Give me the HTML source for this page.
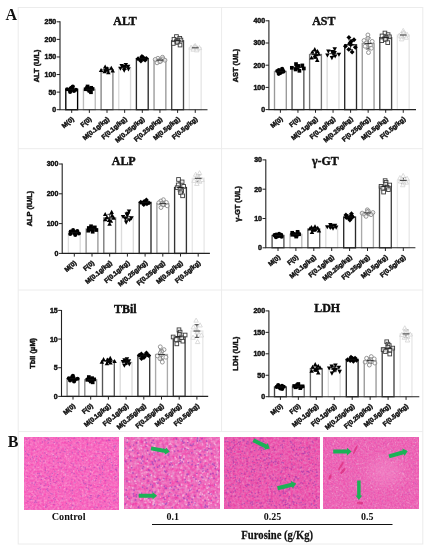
<!DOCTYPE html>
<html lang="en"><head><meta charset="utf-8"><title>Figure</title>
<style>html,body{margin:0;padding:0;background:#fff}svg{display:block}</style></head>
<body>
<svg width="431" height="550" viewBox="0 0 431 550">
<defs>
<filter id="tx1" x="0" y="0" width="100%" height="100%" color-interpolation-filters="sRGB">
<feTurbulence type="fractalNoise" baseFrequency="0.45" numOctaves="2" seed="3" result="n"/>
<feColorMatrix in="n" type="matrix" values="0.1 0 0 0 0.915  0 0.35 0 0 0.241  0 0.12 0 0 0.693  0 0 0 0 1"/>
</filter>
<filter id="tx2" x="0" y="0" width="100%" height="100%" color-interpolation-filters="sRGB">
<feTurbulence type="fractalNoise" baseFrequency="0.32" numOctaves="2" seed="11" result="n"/>
<feColorMatrix in="n" type="matrix" values="0.15 0 0 0 0.858  0 0.5 0 0 0.174  0 0.2 0 0 0.637  0 0 0 0 1"/>
</filter>
<filter id="tx3" x="0" y="0" width="100%" height="100%" color-interpolation-filters="sRGB">
<feTurbulence type="fractalNoise" baseFrequency="0.45" numOctaves="2" seed="5" result="n"/>
<feColorMatrix in="n" type="matrix" values="0.12 0 0 0 0.858  0 0.35 0 0 0.186  0 0.15 0 0 0.615  0 0 0 0 1"/>
</filter>
<filter id="tx4" x="0" y="0" width="100%" height="100%" color-interpolation-filters="sRGB">
<feTurbulence type="fractalNoise" baseFrequency="0.55" numOctaves="2" seed="8" result="n"/>
<feColorMatrix in="n" type="matrix" values="0.1 0 0 0 0.875  0 0.3 0 0 0.250  0 0.12 0 0 0.654  0 0 0 0 1"/>
</filter>
<filter id="bl" x="-50%" y="-50%" width="200%" height="200%"><feGaussianBlur stdDeviation="0.7"/></filter><filter id="bl2" x="-50%" y="-50%" width="200%" height="200%"><feGaussianBlur stdDeviation="6"/></filter>
</defs>
<rect width="431" height="550" fill="#fff"/>

<g stroke="#ececec" stroke-width="1" fill="none">
<rect x="18.2" y="7.5" width="404.6" height="536.5"/>
<path d="M221.6 7.5V431.6M18.2 148.7H422.8M18.2 290H422.8M18.2 431.6H422.8"/>
</g>
<text x="5.6" y="19.7" font-family='"Liberation Serif", "Times New Roman", serif' font-weight="bold" font-size="16" fill="#111">A</text>
<text x="7.8" y="447.3" font-family='"Liberation Serif", "Times New Roman", serif' font-weight="bold" font-size="16" fill="#111">B</text>
<g><rect x="65.80" y="89.31" width="11.80" height="20.39" fill="none" stroke="#000" stroke-width="1.35"/>
<rect x="83.45" y="89.31" width="11.80" height="20.39" fill="none" stroke="#bdbdbd" stroke-width="1.35"/>
<rect x="101.10" y="69.62" width="11.80" height="40.08" fill="none" stroke="#858585" stroke-width="1.35"/>
<rect x="118.75" y="67.51" width="11.80" height="42.19" fill="none" stroke="#dcdcdc" stroke-width="1.35"/>
<rect x="136.40" y="58.72" width="11.80" height="50.98" fill="none" stroke="#2a2a2a" stroke-width="1.35"/>
<rect x="154.05" y="60.12" width="11.80" height="49.58" fill="none" stroke="#999" stroke-width="1.35"/>
<rect x="171.70" y="40.79" width="11.80" height="68.91" fill="none" stroke="#444" stroke-width="1.35"/>
<rect x="189.35" y="47.82" width="11.80" height="61.88" fill="none" stroke="#e6e6e6" stroke-width="1.35"/>
<path d="M60.00 21.30V110.20M59.50 109.70H207.50" stroke="#222" stroke-width="1.1" fill="none"/>
<path d="M56.70 109.70H60.00" stroke="#222" stroke-width="1"/>
<text x="56.20" y="112.15" text-anchor="end" font-family='"Liberation Sans", Arial, sans-serif' font-weight="bold" font-size="7" fill="#111" stroke="#111" stroke-width="0.45">0</text>
<path d="M56.70 92.12H60.00" stroke="#222" stroke-width="1"/>
<text x="56.20" y="94.57" text-anchor="end" font-family='"Liberation Sans", Arial, sans-serif' font-weight="bold" font-size="7" fill="#111" stroke="#111" stroke-width="0.45">50</text>
<path d="M56.70 74.54H60.00" stroke="#222" stroke-width="1"/>
<text x="56.20" y="76.99" text-anchor="end" font-family='"Liberation Sans", Arial, sans-serif' font-weight="bold" font-size="7" fill="#111" stroke="#111" stroke-width="0.45">100</text>
<path d="M56.70 56.96H60.00" stroke="#222" stroke-width="1"/>
<text x="56.20" y="59.41" text-anchor="end" font-family='"Liberation Sans", Arial, sans-serif' font-weight="bold" font-size="7" fill="#111" stroke="#111" stroke-width="0.45">150</text>
<path d="M56.70 39.38H60.00" stroke="#222" stroke-width="1"/>
<text x="56.20" y="41.83" text-anchor="end" font-family='"Liberation Sans", Arial, sans-serif' font-weight="bold" font-size="7" fill="#111" stroke="#111" stroke-width="0.45">200</text>
<path d="M56.70 21.80H60.00" stroke="#222" stroke-width="1"/>
<text x="56.20" y="24.25" text-anchor="end" font-family='"Liberation Sans", Arial, sans-serif' font-weight="bold" font-size="7" fill="#111" stroke="#111" stroke-width="0.45">250</text>
<path d="M71.70 109.70V112.90" stroke="#222" stroke-width="1"/>
<text transform="translate(74.40 119.80) rotate(-40)" text-anchor="end" font-family='"Liberation Sans", Arial, sans-serif' font-weight="bold" font-size="6.55" fill="#111" stroke="#111" stroke-width="0.45">M(0)</text>
<path d="M89.35 109.70V112.90" stroke="#222" stroke-width="1"/>
<text transform="translate(92.05 119.80) rotate(-40)" text-anchor="end" font-family='"Liberation Sans", Arial, sans-serif' font-weight="bold" font-size="6.55" fill="#111" stroke="#111" stroke-width="0.45">F(0)</text>
<path d="M107.00 109.70V112.90" stroke="#222" stroke-width="1"/>
<text transform="translate(109.70 119.80) rotate(-40)" text-anchor="end" font-family='"Liberation Sans", Arial, sans-serif' font-weight="bold" font-size="6.55" fill="#111" stroke="#111" stroke-width="0.45">M(0.1g/kg)</text>
<path d="M124.65 109.70V112.90" stroke="#222" stroke-width="1"/>
<text transform="translate(127.35 119.80) rotate(-40)" text-anchor="end" font-family='"Liberation Sans", Arial, sans-serif' font-weight="bold" font-size="6.55" fill="#111" stroke="#111" stroke-width="0.45">F(0.1g/kg)</text>
<path d="M142.30 109.70V112.90" stroke="#222" stroke-width="1"/>
<text transform="translate(145.00 119.80) rotate(-40)" text-anchor="end" font-family='"Liberation Sans", Arial, sans-serif' font-weight="bold" font-size="6.55" fill="#111" stroke="#111" stroke-width="0.45">M(0.25g/kg)</text>
<path d="M159.95 109.70V112.90" stroke="#222" stroke-width="1"/>
<text transform="translate(162.65 119.80) rotate(-40)" text-anchor="end" font-family='"Liberation Sans", Arial, sans-serif' font-weight="bold" font-size="6.55" fill="#111" stroke="#111" stroke-width="0.45">F(0.25g/kg)</text>
<path d="M177.60 109.70V112.90" stroke="#222" stroke-width="1"/>
<text transform="translate(180.30 119.80) rotate(-40)" text-anchor="end" font-family='"Liberation Sans", Arial, sans-serif' font-weight="bold" font-size="6.55" fill="#111" stroke="#111" stroke-width="0.45">M(0.5g/kg)</text>
<path d="M195.25 109.70V112.90" stroke="#222" stroke-width="1"/>
<text transform="translate(197.95 119.80) rotate(-40)" text-anchor="end" font-family='"Liberation Sans", Arial, sans-serif' font-weight="bold" font-size="6.55" fill="#111" stroke="#111" stroke-width="0.45">F(0.5g/kg)</text>
<path d="M71.70 87.55V91.07M69.30 87.55H74.10M69.30 91.07H74.10" stroke="#111" stroke-width="0.8" fill="none"/>
<circle cx="72.84" cy="86.43" r="2.05" fill="#000"/>
<circle cx="71.83" cy="87.46" r="2.05" fill="#000"/>
<circle cx="70.73" cy="88.33" r="2.05" fill="#000"/>
<circle cx="71.90" cy="88.63" r="2.05" fill="#000"/>
<circle cx="67.10" cy="89.32" r="2.05" fill="#000"/>
<circle cx="75.90" cy="89.75" r="2.05" fill="#000"/>
<circle cx="69.94" cy="90.16" r="2.05" fill="#000"/>
<circle cx="73.97" cy="91.01" r="2.05" fill="#000"/>
<circle cx="70.10" cy="91.91" r="2.05" fill="#000"/>
<path d="M68.30 89.31H75.10" stroke="#111" stroke-width="0.8"/>
<path d="M89.35 87.55V91.07M86.95 87.55H91.75M86.95 91.07H91.75" stroke="#111" stroke-width="0.8" fill="none"/>
<rect x="85.73" y="84.62" width="3.69" height="3.69" fill="#000"/>
<rect x="89.34" y="85.96" width="3.69" height="3.69" fill="#000"/>
<rect x="85.13" y="86.23" width="3.69" height="3.69" fill="#000"/>
<rect x="90.75" y="87.12" width="3.69" height="3.69" fill="#000"/>
<rect x="83.79" y="87.37" width="3.69" height="3.69" fill="#000"/>
<rect x="86.78" y="87.81" width="3.69" height="3.69" fill="#000"/>
<rect x="88.25" y="88.34" width="3.69" height="3.69" fill="#000"/>
<rect x="87.61" y="89.08" width="3.69" height="3.69" fill="#000"/>
<rect x="89.13" y="90.40" width="3.69" height="3.69" fill="#000"/>
<path d="M85.95 89.31H92.75" stroke="#111" stroke-width="0.8"/>
<path d="M107.00 67.86V71.38M104.60 67.86H109.40M104.60 71.38H109.40" stroke="#111" stroke-width="0.8" fill="none"/>
<path d="M105.18 64.48L107.43 68.58L102.92 68.58Z" fill="#000"/>
<path d="M111.28 65.70L113.54 69.80L109.03 69.80Z" fill="#000"/>
<path d="M107.37 66.31L109.63 70.41L105.12 70.41Z" fill="#000"/>
<path d="M105.75 66.78L108.01 70.88L103.50 70.88Z" fill="#000"/>
<path d="M107.15 67.49L109.41 71.59L104.90 71.59Z" fill="#000"/>
<path d="M101.09 67.94L103.35 72.04L98.84 72.04Z" fill="#000"/>
<path d="M112.69 68.29L114.95 72.39L110.44 72.39Z" fill="#000"/>
<path d="M104.66 69.09L106.91 73.19L102.40 73.19Z" fill="#000"/>
<path d="M108.39 70.17L110.65 74.27L106.14 74.27Z" fill="#000"/>
<path d="M103.60 69.62H110.40" stroke="#111" stroke-width="0.8"/>
<path d="M124.65 65.75V69.27M122.25 65.75H127.05M122.25 69.27H127.05" stroke="#111" stroke-width="0.8" fill="none"/>
<path d="M125.82 67.07L128.08 62.97L123.57 62.97Z" fill="#000"/>
<path d="M121.66 68.09L123.92 63.99L119.41 63.99Z" fill="#000"/>
<path d="M128.09 68.89L130.34 64.79L125.83 64.79Z" fill="#000"/>
<path d="M124.98 69.19L127.23 65.09L122.72 65.09Z" fill="#000"/>
<path d="M123.82 69.85L126.07 65.75L121.56 65.75Z" fill="#000"/>
<path d="M124.76 70.30L127.01 66.20L122.50 66.20Z" fill="#000"/>
<path d="M120.44 70.83L122.69 66.73L118.18 66.73Z" fill="#000"/>
<path d="M128.46 71.45L130.71 67.35L126.20 67.35Z" fill="#000"/>
<path d="M124.22 72.71L126.47 68.61L121.96 68.61Z" fill="#000"/>
<path d="M121.25 67.51H128.05" stroke="#111" stroke-width="0.8"/>
<path d="M142.30 57.31V60.12M139.90 57.31H144.70M139.90 60.12H144.70" stroke="#111" stroke-width="0.8" fill="none"/>
<path d="M141.92 53.97L144.38 56.43L141.92 58.89L139.46 56.43Z" fill="#000"/>
<path d="M143.07 55.05L145.53 57.51L143.07 59.97L140.61 57.51Z" fill="#000"/>
<path d="M142.17 55.38L144.63 57.84L142.17 60.30L139.71 57.84Z" fill="#000"/>
<path d="M146.26 55.90L148.72 58.36L146.26 60.82L143.80 58.36Z" fill="#000"/>
<path d="M138.08 56.26L140.54 58.72L138.08 61.18L135.62 58.72Z" fill="#000"/>
<path d="M144.09 56.56L146.55 59.02L144.09 61.48L141.63 59.02Z" fill="#000"/>
<path d="M140.22 57.02L142.68 59.48L140.22 61.94L137.76 59.48Z" fill="#000"/>
<path d="M145.16 57.70L147.62 60.16L145.16 62.62L142.70 60.16Z" fill="#000"/>
<path d="M140.92 58.46L143.38 60.92L140.92 63.38L138.46 60.92Z" fill="#000"/>
<path d="M138.90 58.72H145.70" stroke="#111" stroke-width="0.8"/>
<path d="M159.95 58.37V61.88M157.55 58.37H162.35M157.55 61.88H162.35" stroke="#111" stroke-width="0.8" fill="none"/>
<circle cx="162.49" cy="57.27" r="1.95" fill="#fff" fill-opacity="0.6" stroke="#8a8a8a" stroke-width="0.9"/>
<circle cx="157.90" cy="58.31" r="1.95" fill="#fff" fill-opacity="0.6" stroke="#8a8a8a" stroke-width="0.9"/>
<circle cx="163.04" cy="58.91" r="1.95" fill="#fff" fill-opacity="0.6" stroke="#8a8a8a" stroke-width="0.9"/>
<circle cx="155.25" cy="59.48" r="1.95" fill="#fff" fill-opacity="0.6" stroke="#8a8a8a" stroke-width="0.9"/>
<circle cx="164.97" cy="60.19" r="1.95" fill="#fff" fill-opacity="0.6" stroke="#8a8a8a" stroke-width="0.9"/>
<circle cx="160.86" cy="60.41" r="1.95" fill="#fff" fill-opacity="0.6" stroke="#8a8a8a" stroke-width="0.9"/>
<circle cx="158.76" cy="61.30" r="1.95" fill="#fff" fill-opacity="0.6" stroke="#8a8a8a" stroke-width="0.9"/>
<circle cx="160.09" cy="61.69" r="1.95" fill="#fff" fill-opacity="0.6" stroke="#8a8a8a" stroke-width="0.9"/>
<circle cx="157.06" cy="62.83" r="1.95" fill="#fff" fill-opacity="0.6" stroke="#8a8a8a" stroke-width="0.9"/>
<path d="M156.55 60.12H163.35" stroke="#111" stroke-width="0.8"/>
<path d="M177.60 37.97V43.60M175.20 37.97H180.00M175.20 43.60H180.00" stroke="#111" stroke-width="0.8" fill="none"/>
<rect x="174.60" y="34.71" width="3.69" height="3.69" fill="#fff" fill-opacity="0.6" stroke="#3c3c3c" stroke-width="0.9"/>
<rect x="177.94" y="36.53" width="3.69" height="3.69" fill="#fff" fill-opacity="0.6" stroke="#3c3c3c" stroke-width="0.9"/>
<rect x="172.13" y="37.41" width="3.69" height="3.69" fill="#fff" fill-opacity="0.6" stroke="#3c3c3c" stroke-width="0.9"/>
<rect x="179.06" y="38.19" width="3.69" height="3.69" fill="#fff" fill-opacity="0.6" stroke="#3c3c3c" stroke-width="0.9"/>
<rect x="176.03" y="38.87" width="3.69" height="3.69" fill="#fff" fill-opacity="0.6" stroke="#3c3c3c" stroke-width="0.9"/>
<rect x="174.56" y="39.66" width="3.69" height="3.69" fill="#fff" fill-opacity="0.6" stroke="#3c3c3c" stroke-width="0.9"/>
<rect x="175.67" y="40.59" width="3.69" height="3.69" fill="#fff" fill-opacity="0.6" stroke="#3c3c3c" stroke-width="0.9"/>
<rect x="171.41" y="41.60" width="3.69" height="3.69" fill="#fff" fill-opacity="0.6" stroke="#3c3c3c" stroke-width="0.9"/>
<rect x="178.20" y="43.21" width="3.69" height="3.69" fill="#fff" fill-opacity="0.6" stroke="#3c3c3c" stroke-width="0.9"/>
<path d="M174.20 40.79H181.00" stroke="#111" stroke-width="0.8"/>
<path d="M195.25 46.41V49.22M192.85 46.41H197.65M192.85 49.22H197.65" stroke="#111" stroke-width="0.8" fill="none"/>
<path d="M195.19 43.36L197.45 47.46L192.94 47.46Z" fill="#fff" fill-opacity="0.6" stroke="#d8d8d8" stroke-width="0.9"/>
<path d="M194.33 44.08L196.58 48.18L192.07 48.18Z" fill="#fff" fill-opacity="0.6" stroke="#d8d8d8" stroke-width="0.9"/>
<path d="M195.16 44.65L197.41 48.75L192.90 48.75Z" fill="#fff" fill-opacity="0.6" stroke="#d8d8d8" stroke-width="0.9"/>
<path d="M191.12 45.11L193.37 49.21L188.86 49.21Z" fill="#fff" fill-opacity="0.6" stroke="#d8d8d8" stroke-width="0.9"/>
<path d="M199.44 45.52L201.69 49.62L197.18 49.62Z" fill="#fff" fill-opacity="0.6" stroke="#d8d8d8" stroke-width="0.9"/>
<path d="M193.37 45.83L195.62 49.93L191.11 49.93Z" fill="#fff" fill-opacity="0.6" stroke="#d8d8d8" stroke-width="0.9"/>
<path d="M197.06 46.51L199.32 50.61L194.81 50.61Z" fill="#fff" fill-opacity="0.6" stroke="#d8d8d8" stroke-width="0.9"/>
<path d="M193.20 47.09L195.45 51.19L190.94 51.19Z" fill="#fff" fill-opacity="0.6" stroke="#d8d8d8" stroke-width="0.9"/>
<path d="M196.65 47.79L198.91 51.89L194.40 51.89Z" fill="#fff" fill-opacity="0.6" stroke="#d8d8d8" stroke-width="0.9"/>
<path d="M191.85 47.82H198.65" stroke="#111" stroke-width="0.8"/>
<text transform="translate(125.00 24.80) scale(0.92 1)" text-anchor="middle" font-family='"Liberation Serif", "Times New Roman", serif' font-weight="bold" font-size="13" fill="#111" stroke="#111" stroke-width="0.45">ALT</text>
<text transform="translate(38.60 65.90) rotate(-90)" text-anchor="middle" font-family='"Liberation Sans", Arial, sans-serif' font-weight="bold" font-size="7.4" fill="#111" stroke="#111" stroke-width="0.45">ALT (U/L)</text></g>
<g><rect x="274.50" y="71.42" width="11.80" height="38.18" fill="none" stroke="#999" stroke-width="1.35"/>
<rect x="292.05" y="67.42" width="11.80" height="42.18" fill="none" stroke="#555" stroke-width="1.35"/>
<rect x="309.60" y="54.54" width="11.80" height="55.06" fill="none" stroke="#777" stroke-width="1.35"/>
<rect x="327.15" y="53.66" width="11.80" height="55.94" fill="none" stroke="#dcdcdc" stroke-width="1.35"/>
<rect x="344.70" y="44.78" width="11.80" height="64.82" fill="none" stroke="#2a2a2a" stroke-width="1.35"/>
<rect x="362.25" y="43.44" width="11.80" height="66.16" fill="none" stroke="#999" stroke-width="1.35"/>
<rect x="379.80" y="37.67" width="11.80" height="71.93" fill="none" stroke="#444" stroke-width="1.35"/>
<rect x="397.35" y="35.01" width="11.80" height="74.59" fill="none" stroke="#e6e6e6" stroke-width="1.35"/>
<path d="M268.90 20.30V110.10M268.40 109.60H416.00" stroke="#222" stroke-width="1.1" fill="none"/>
<path d="M265.60 109.60H268.90" stroke="#222" stroke-width="1"/>
<text x="265.10" y="112.05" text-anchor="end" font-family='"Liberation Sans", Arial, sans-serif' font-weight="bold" font-size="7" fill="#111" stroke="#111" stroke-width="0.45">0</text>
<path d="M265.60 87.40H268.90" stroke="#222" stroke-width="1"/>
<text x="265.10" y="89.85" text-anchor="end" font-family='"Liberation Sans", Arial, sans-serif' font-weight="bold" font-size="7" fill="#111" stroke="#111" stroke-width="0.45">100</text>
<path d="M265.60 65.20H268.90" stroke="#222" stroke-width="1"/>
<text x="265.10" y="67.65" text-anchor="end" font-family='"Liberation Sans", Arial, sans-serif' font-weight="bold" font-size="7" fill="#111" stroke="#111" stroke-width="0.45">200</text>
<path d="M265.60 43.00H268.90" stroke="#222" stroke-width="1"/>
<text x="265.10" y="45.45" text-anchor="end" font-family='"Liberation Sans", Arial, sans-serif' font-weight="bold" font-size="7" fill="#111" stroke="#111" stroke-width="0.45">300</text>
<path d="M265.60 20.80H268.90" stroke="#222" stroke-width="1"/>
<text x="265.10" y="23.25" text-anchor="end" font-family='"Liberation Sans", Arial, sans-serif' font-weight="bold" font-size="7" fill="#111" stroke="#111" stroke-width="0.45">400</text>
<path d="M280.40 109.60V112.80" stroke="#222" stroke-width="1"/>
<text transform="translate(283.10 119.70) rotate(-40)" text-anchor="end" font-family='"Liberation Sans", Arial, sans-serif' font-weight="bold" font-size="6.55" fill="#111" stroke="#111" stroke-width="0.45">M(0)</text>
<path d="M297.95 109.60V112.80" stroke="#222" stroke-width="1"/>
<text transform="translate(300.65 119.70) rotate(-40)" text-anchor="end" font-family='"Liberation Sans", Arial, sans-serif' font-weight="bold" font-size="6.55" fill="#111" stroke="#111" stroke-width="0.45">F(0)</text>
<path d="M315.50 109.60V112.80" stroke="#222" stroke-width="1"/>
<text transform="translate(318.20 119.70) rotate(-40)" text-anchor="end" font-family='"Liberation Sans", Arial, sans-serif' font-weight="bold" font-size="6.55" fill="#111" stroke="#111" stroke-width="0.45">M(0.1g/kg)</text>
<path d="M333.05 109.60V112.80" stroke="#222" stroke-width="1"/>
<text transform="translate(335.75 119.70) rotate(-40)" text-anchor="end" font-family='"Liberation Sans", Arial, sans-serif' font-weight="bold" font-size="6.55" fill="#111" stroke="#111" stroke-width="0.45">F(0.1g/kg)</text>
<path d="M350.60 109.60V112.80" stroke="#222" stroke-width="1"/>
<text transform="translate(353.30 119.70) rotate(-40)" text-anchor="end" font-family='"Liberation Sans", Arial, sans-serif' font-weight="bold" font-size="6.55" fill="#111" stroke="#111" stroke-width="0.45">M(0.25g/kg)</text>
<path d="M368.15 109.60V112.80" stroke="#222" stroke-width="1"/>
<text transform="translate(370.85 119.70) rotate(-40)" text-anchor="end" font-family='"Liberation Sans", Arial, sans-serif' font-weight="bold" font-size="6.55" fill="#111" stroke="#111" stroke-width="0.45">F(0.25g/kg)</text>
<path d="M385.70 109.60V112.80" stroke="#222" stroke-width="1"/>
<text transform="translate(388.40 119.70) rotate(-40)" text-anchor="end" font-family='"Liberation Sans", Arial, sans-serif' font-weight="bold" font-size="6.55" fill="#111" stroke="#111" stroke-width="0.45">M(0.5g/kg)</text>
<path d="M403.25 109.60V112.80" stroke="#222" stroke-width="1"/>
<text transform="translate(405.95 119.70) rotate(-40)" text-anchor="end" font-family='"Liberation Sans", Arial, sans-serif' font-weight="bold" font-size="6.55" fill="#111" stroke="#111" stroke-width="0.45">F(0.5g/kg)</text>
<path d="M280.40 69.86V72.97M278.00 69.86H282.80M278.00 72.97H282.80" stroke="#111" stroke-width="0.8" fill="none"/>
<circle cx="282.13" cy="68.81" r="2.05" fill="#000"/>
<circle cx="278.87" cy="69.93" r="2.05" fill="#000"/>
<circle cx="282.77" cy="70.32" r="2.05" fill="#000"/>
<circle cx="277.22" cy="70.99" r="2.05" fill="#000"/>
<circle cx="283.53" cy="71.59" r="2.05" fill="#000"/>
<circle cx="281.03" cy="71.99" r="2.05" fill="#000"/>
<circle cx="279.81" cy="72.41" r="2.05" fill="#000"/>
<circle cx="280.61" cy="72.83" r="2.05" fill="#000"/>
<circle cx="278.67" cy="73.84" r="2.05" fill="#000"/>
<path d="M277.00 71.42H283.80" stroke="#111" stroke-width="0.8"/>
<path d="M297.95 65.20V69.64M295.55 65.20H300.35M295.55 69.64H300.35" stroke="#111" stroke-width="0.8" fill="none"/>
<rect x="294.17" y="62.21" width="3.69" height="3.69" fill="#000"/>
<rect x="300.48" y="63.56" width="3.69" height="3.69" fill="#000"/>
<rect x="296.63" y="64.12" width="3.69" height="3.69" fill="#000"/>
<rect x="295.15" y="64.96" width="3.69" height="3.69" fill="#000"/>
<rect x="295.85" y="65.50" width="3.69" height="3.69" fill="#000"/>
<rect x="289.98" y="65.95" width="3.69" height="3.69" fill="#000"/>
<rect x="301.98" y="66.63" width="3.69" height="3.69" fill="#000"/>
<rect x="293.75" y="67.61" width="3.69" height="3.69" fill="#000"/>
<rect x="297.57" y="68.98" width="3.69" height="3.69" fill="#000"/>
<path d="M294.55 67.42H301.35" stroke="#111" stroke-width="0.8"/>
<path d="M315.50 50.99V58.10M313.10 50.99H317.90M313.10 58.10H317.90" stroke="#111" stroke-width="0.8" fill="none"/>
<path d="M314.78 47.04L317.04 51.14L312.53 51.14Z" fill="#000"/>
<path d="M317.51 48.95L319.77 53.05L315.26 53.05Z" fill="#000"/>
<path d="M312.36 49.77L314.62 53.87L310.11 53.87Z" fill="#000"/>
<path d="M318.70 51.64L320.96 55.74L316.45 55.74Z" fill="#000"/>
<path d="M316.23 52.16L318.48 56.26L313.97 56.26Z" fill="#000"/>
<path d="M314.71 53.41L316.97 57.51L312.46 57.51Z" fill="#000"/>
<path d="M315.48 54.67L317.73 58.77L313.22 58.77Z" fill="#000"/>
<path d="M311.55 55.40L313.81 59.50L309.30 59.50Z" fill="#000"/>
<path d="M317.23 57.85L319.49 61.95L314.98 61.95Z" fill="#000"/>
<path d="M312.10 54.54H318.90" stroke="#111" stroke-width="0.8"/>
<path d="M333.05 50.99V56.32M330.65 50.99H335.45M330.65 56.32H335.45" stroke="#111" stroke-width="0.8" fill="none"/>
<path d="M334.72 51.45L336.97 47.35L332.46 47.35Z" fill="#000"/>
<path d="M328.38 53.65L330.64 49.55L326.13 49.55Z" fill="#000"/>
<path d="M332.14 54.04L334.39 49.94L329.88 49.94Z" fill="#000"/>
<path d="M334.57 55.22L336.83 51.12L332.32 51.12Z" fill="#000"/>
<path d="M333.14 55.89L335.39 51.79L330.88 51.79Z" fill="#000"/>
<path d="M338.96 56.76L341.21 52.66L336.70 52.66Z" fill="#000"/>
<path d="M327.42 57.55L329.68 53.45L325.17 53.45Z" fill="#000"/>
<path d="M335.13 58.55L337.39 54.45L332.88 54.45Z" fill="#000"/>
<path d="M331.91 60.14L334.17 56.04L329.66 56.04Z" fill="#000"/>
<path d="M329.65 53.66H336.45" stroke="#111" stroke-width="0.8"/>
<path d="M350.60 39.89V49.66M348.20 39.89H353.00M348.20 49.66H353.00" stroke="#111" stroke-width="0.8" fill="none"/>
<path d="M348.92 34.92L351.38 37.38L348.92 39.84L346.46 37.38Z" fill="#000"/>
<path d="M354.00 37.25L356.46 39.71L354.00 42.17L351.54 39.71Z" fill="#000"/>
<path d="M351.13 39.15L353.59 41.61L351.13 44.07L348.67 41.61Z" fill="#000"/>
<path d="M349.76 40.69L352.22 43.15L349.76 45.61L347.30 43.15Z" fill="#000"/>
<path d="M350.83 42.01L353.29 44.47L350.83 46.93L348.37 44.47Z" fill="#000"/>
<path d="M345.44 43.80L347.90 46.26L345.44 48.72L342.98 46.26Z" fill="#000"/>
<path d="M355.33 44.91L357.79 47.37L355.33 49.83L352.87 47.37Z" fill="#000"/>
<path d="M348.76 46.95L351.22 49.41L348.76 51.87L346.30 49.41Z" fill="#000"/>
<path d="M352.12 49.66L354.58 52.12L352.12 54.58L349.66 52.12Z" fill="#000"/>
<path d="M347.20 44.78H354.00" stroke="#111" stroke-width="0.8"/>
<path d="M368.15 37.89V48.99M365.75 37.89H370.55M365.75 48.99H370.55" stroke="#111" stroke-width="0.8" fill="none"/>
<circle cx="367.90" cy="34.97" r="1.95" fill="#fff" fill-opacity="0.6" stroke="#8a8a8a" stroke-width="0.9"/>
<circle cx="367.91" cy="38.22" r="1.95" fill="#fff" fill-opacity="0.6" stroke="#8a8a8a" stroke-width="0.9"/>
<circle cx="364.01" cy="40.54" r="1.95" fill="#fff" fill-opacity="0.6" stroke="#8a8a8a" stroke-width="0.9"/>
<circle cx="372.18" cy="41.41" r="1.95" fill="#fff" fill-opacity="0.6" stroke="#8a8a8a" stroke-width="0.9"/>
<circle cx="366.26" cy="42.97" r="1.95" fill="#fff" fill-opacity="0.6" stroke="#8a8a8a" stroke-width="0.9"/>
<circle cx="370.51" cy="45.17" r="1.95" fill="#fff" fill-opacity="0.6" stroke="#8a8a8a" stroke-width="0.9"/>
<circle cx="365.07" cy="46.21" r="1.95" fill="#fff" fill-opacity="0.6" stroke="#8a8a8a" stroke-width="0.9"/>
<circle cx="371.31" cy="48.23" r="1.95" fill="#fff" fill-opacity="0.6" stroke="#8a8a8a" stroke-width="0.9"/>
<circle cx="368.48" cy="52.53" r="1.95" fill="#fff" fill-opacity="0.6" stroke="#8a8a8a" stroke-width="0.9"/>
<path d="M364.75 43.44H371.55" stroke="#111" stroke-width="0.8"/>
<path d="M385.70 34.56V40.78M383.30 34.56H388.10M383.30 40.78H388.10" stroke="#111" stroke-width="0.8" fill="none"/>
<rect x="383.10" y="31.18" width="3.69" height="3.69" fill="#fff" fill-opacity="0.6" stroke="#3c3c3c" stroke-width="0.9"/>
<rect x="386.25" y="32.78" width="3.69" height="3.69" fill="#fff" fill-opacity="0.6" stroke="#3c3c3c" stroke-width="0.9"/>
<rect x="380.18" y="34.08" width="3.69" height="3.69" fill="#fff" fill-opacity="0.6" stroke="#3c3c3c" stroke-width="0.9"/>
<rect x="387.57" y="34.95" width="3.69" height="3.69" fill="#fff" fill-opacity="0.6" stroke="#3c3c3c" stroke-width="0.9"/>
<rect x="384.30" y="35.84" width="3.69" height="3.69" fill="#fff" fill-opacity="0.6" stroke="#3c3c3c" stroke-width="0.9"/>
<rect x="382.79" y="36.85" width="3.69" height="3.69" fill="#fff" fill-opacity="0.6" stroke="#3c3c3c" stroke-width="0.9"/>
<rect x="383.74" y="37.62" width="3.69" height="3.69" fill="#fff" fill-opacity="0.6" stroke="#3c3c3c" stroke-width="0.9"/>
<rect x="379.84" y="38.86" width="3.69" height="3.69" fill="#fff" fill-opacity="0.6" stroke="#3c3c3c" stroke-width="0.9"/>
<rect x="385.89" y="40.76" width="3.69" height="3.69" fill="#fff" fill-opacity="0.6" stroke="#3c3c3c" stroke-width="0.9"/>
<path d="M382.30 37.67H389.10" stroke="#111" stroke-width="0.8"/>
<path d="M403.25 32.34V37.67M400.85 32.34H405.65M400.85 37.67H405.65" stroke="#111" stroke-width="0.8" fill="none"/>
<path d="M403.24 28.32L405.49 32.42L400.98 32.42Z" fill="#fff" fill-opacity="0.6" stroke="#d8d8d8" stroke-width="0.9"/>
<path d="M403.71 30.05L405.97 34.15L401.46 34.15Z" fill="#fff" fill-opacity="0.6" stroke="#d8d8d8" stroke-width="0.9"/>
<path d="M403.48 30.94L405.74 35.04L401.23 35.04Z" fill="#fff" fill-opacity="0.6" stroke="#d8d8d8" stroke-width="0.9"/>
<path d="M407.04 32.18L409.29 36.28L404.78 36.28Z" fill="#fff" fill-opacity="0.6" stroke="#d8d8d8" stroke-width="0.9"/>
<path d="M399.36 33.03L401.62 37.13L397.11 37.13Z" fill="#fff" fill-opacity="0.6" stroke="#d8d8d8" stroke-width="0.9"/>
<path d="M404.76 33.60L407.02 37.70L402.51 37.70Z" fill="#fff" fill-opacity="0.6" stroke="#d8d8d8" stroke-width="0.9"/>
<path d="M401.27 34.24L403.53 38.34L399.02 38.34Z" fill="#fff" fill-opacity="0.6" stroke="#d8d8d8" stroke-width="0.9"/>
<path d="M406.23 35.17L408.49 39.27L403.98 39.27Z" fill="#fff" fill-opacity="0.6" stroke="#d8d8d8" stroke-width="0.9"/>
<path d="M401.63 36.77L403.89 40.87L399.38 40.87Z" fill="#fff" fill-opacity="0.6" stroke="#d8d8d8" stroke-width="0.9"/>
<path d="M399.85 35.01H406.65" stroke="#111" stroke-width="0.8"/>
<text transform="translate(323.80 24.60) scale(0.92 1)" text-anchor="middle" font-family='"Liberation Serif", "Times New Roman", serif' font-weight="bold" font-size="13" fill="#111" stroke="#111" stroke-width="0.45">AST</text>
<text transform="translate(238.40 65.50) rotate(-90)" text-anchor="middle" font-family='"Liberation Sans", Arial, sans-serif' font-weight="bold" font-size="7.4" fill="#111" stroke="#111" stroke-width="0.45">AST (U/L)</text></g>
<g><rect x="68.40" y="232.54" width="11.80" height="20.86" fill="none" stroke="#ddd" stroke-width="1.35"/>
<rect x="86.10" y="228.96" width="11.80" height="24.44" fill="none" stroke="#999" stroke-width="1.35"/>
<rect x="103.80" y="217.94" width="11.80" height="35.46" fill="none" stroke="#777" stroke-width="1.35"/>
<rect x="121.50" y="216.75" width="11.80" height="36.65" fill="none" stroke="#dcdcdc" stroke-width="1.35"/>
<rect x="139.20" y="202.44" width="11.80" height="50.96" fill="none" stroke="#2a2a2a" stroke-width="1.35"/>
<rect x="156.90" y="203.63" width="11.80" height="49.77" fill="none" stroke="#999" stroke-width="1.35"/>
<rect x="174.60" y="187.54" width="11.80" height="65.86" fill="none" stroke="#333" stroke-width="1.35"/>
<rect x="192.30" y="178.30" width="11.80" height="75.10" fill="none" stroke="#e8e8e8" stroke-width="1.35"/>
<path d="M62.20 163.50V253.90M61.70 253.40H209.90" stroke="#222" stroke-width="1.1" fill="none"/>
<path d="M58.90 253.40H62.20" stroke="#222" stroke-width="1"/>
<text x="58.40" y="255.85" text-anchor="end" font-family='"Liberation Sans", Arial, sans-serif' font-weight="bold" font-size="7" fill="#111" stroke="#111" stroke-width="0.45">0</text>
<path d="M58.90 223.60H62.20" stroke="#222" stroke-width="1"/>
<text x="58.40" y="226.05" text-anchor="end" font-family='"Liberation Sans", Arial, sans-serif' font-weight="bold" font-size="7" fill="#111" stroke="#111" stroke-width="0.45">100</text>
<path d="M58.90 193.80H62.20" stroke="#222" stroke-width="1"/>
<text x="58.40" y="196.25" text-anchor="end" font-family='"Liberation Sans", Arial, sans-serif' font-weight="bold" font-size="7" fill="#111" stroke="#111" stroke-width="0.45">200</text>
<path d="M58.90 164.00H62.20" stroke="#222" stroke-width="1"/>
<text x="58.40" y="166.45" text-anchor="end" font-family='"Liberation Sans", Arial, sans-serif' font-weight="bold" font-size="7" fill="#111" stroke="#111" stroke-width="0.45">300</text>
<path d="M74.30 253.40V256.60" stroke="#222" stroke-width="1"/>
<text transform="translate(77.00 263.50) rotate(-40)" text-anchor="end" font-family='"Liberation Sans", Arial, sans-serif' font-weight="bold" font-size="6.55" fill="#111" stroke="#111" stroke-width="0.45">M(0)</text>
<path d="M92.00 253.40V256.60" stroke="#222" stroke-width="1"/>
<text transform="translate(94.70 263.50) rotate(-40)" text-anchor="end" font-family='"Liberation Sans", Arial, sans-serif' font-weight="bold" font-size="6.55" fill="#111" stroke="#111" stroke-width="0.45">F(0)</text>
<path d="M109.70 253.40V256.60" stroke="#222" stroke-width="1"/>
<text transform="translate(112.40 263.50) rotate(-40)" text-anchor="end" font-family='"Liberation Sans", Arial, sans-serif' font-weight="bold" font-size="6.55" fill="#111" stroke="#111" stroke-width="0.45">M(0.1g/kg)</text>
<path d="M127.40 253.40V256.60" stroke="#222" stroke-width="1"/>
<text transform="translate(130.10 263.50) rotate(-40)" text-anchor="end" font-family='"Liberation Sans", Arial, sans-serif' font-weight="bold" font-size="6.55" fill="#111" stroke="#111" stroke-width="0.45">F(0.1g/kg)</text>
<path d="M145.10 253.40V256.60" stroke="#222" stroke-width="1"/>
<text transform="translate(147.80 263.50) rotate(-40)" text-anchor="end" font-family='"Liberation Sans", Arial, sans-serif' font-weight="bold" font-size="6.55" fill="#111" stroke="#111" stroke-width="0.45">M(0.25g/kg)</text>
<path d="M162.80 253.40V256.60" stroke="#222" stroke-width="1"/>
<text transform="translate(165.50 263.50) rotate(-40)" text-anchor="end" font-family='"Liberation Sans", Arial, sans-serif' font-weight="bold" font-size="6.55" fill="#111" stroke="#111" stroke-width="0.45">F(0.25g/kg)</text>
<path d="M180.50 253.40V256.60" stroke="#222" stroke-width="1"/>
<text transform="translate(183.20 263.50) rotate(-40)" text-anchor="end" font-family='"Liberation Sans", Arial, sans-serif' font-weight="bold" font-size="6.55" fill="#111" stroke="#111" stroke-width="0.45">M(0.5g/kg)</text>
<path d="M198.20 253.40V256.60" stroke="#222" stroke-width="1"/>
<text transform="translate(200.90 263.50) rotate(-40)" text-anchor="end" font-family='"Liberation Sans", Arial, sans-serif' font-weight="bold" font-size="6.55" fill="#111" stroke="#111" stroke-width="0.45">F(0.5g/kg)</text>
<path d="M74.30 231.05V234.03M71.90 231.05H76.70M71.90 234.03H76.70" stroke="#111" stroke-width="0.8" fill="none"/>
<circle cx="73.10" cy="230.14" r="2.05" fill="#000"/>
<circle cx="77.28" cy="231.05" r="2.05" fill="#000"/>
<circle cx="70.69" cy="231.52" r="2.05" fill="#000"/>
<circle cx="74.07" cy="232.07" r="2.05" fill="#000"/>
<circle cx="74.97" cy="232.48" r="2.05" fill="#000"/>
<circle cx="74.16" cy="232.95" r="2.05" fill="#000"/>
<circle cx="78.91" cy="233.49" r="2.05" fill="#000"/>
<circle cx="70.21" cy="233.94" r="2.05" fill="#000"/>
<circle cx="75.25" cy="234.92" r="2.05" fill="#000"/>
<path d="M70.90 232.54H77.70" stroke="#111" stroke-width="0.8"/>
<path d="M92.00 227.18V230.75M89.60 227.18H94.40M89.60 230.75H94.40" stroke="#111" stroke-width="0.8" fill="none"/>
<rect x="89.21" y="224.41" width="3.69" height="3.69" fill="#000"/>
<rect x="92.96" y="225.54" width="3.69" height="3.69" fill="#000"/>
<rect x="86.94" y="226.14" width="3.69" height="3.69" fill="#000"/>
<rect x="89.56" y="226.81" width="3.69" height="3.69" fill="#000"/>
<rect x="90.79" y="227.08" width="3.69" height="3.69" fill="#000"/>
<rect x="89.91" y="227.64" width="3.69" height="3.69" fill="#000"/>
<rect x="94.38" y="228.18" width="3.69" height="3.69" fill="#000"/>
<rect x="86.40" y="228.85" width="3.69" height="3.69" fill="#000"/>
<rect x="90.84" y="229.89" width="3.69" height="3.69" fill="#000"/>
<path d="M88.60 228.96H95.40" stroke="#111" stroke-width="0.8"/>
<path d="M109.70 214.36V221.51M107.30 214.36H112.10M107.30 221.51H112.10" stroke="#111" stroke-width="0.8" fill="none"/>
<path d="M111.66 209.78L113.91 213.88L109.40 213.88Z" fill="#000"/>
<path d="M105.20 211.90L107.46 216.00L102.95 216.00Z" fill="#000"/>
<path d="M112.20 213.16L114.45 217.26L109.94 217.26Z" fill="#000"/>
<path d="M106.98 215.10L109.23 219.20L104.72 219.20Z" fill="#000"/>
<path d="M113.64 215.61L115.89 219.71L111.38 219.71Z" fill="#000"/>
<path d="M105.32 217.05L107.58 221.15L103.07 221.15Z" fill="#000"/>
<path d="M109.11 217.90L111.36 222.00L106.85 222.00Z" fill="#000"/>
<path d="M110.87 218.75L113.12 222.85L108.61 222.85Z" fill="#000"/>
<path d="M109.56 221.56L111.82 225.66L107.31 225.66Z" fill="#000"/>
<path d="M106.30 217.94H113.10" stroke="#111" stroke-width="0.8"/>
<path d="M127.40 213.17V220.32M125.00 213.17H129.80M125.00 220.32H129.80" stroke="#111" stroke-width="0.8" fill="none"/>
<path d="M129.03 213.56L131.29 209.46L126.78 209.46Z" fill="#000"/>
<path d="M128.05 215.97L130.31 211.87L125.80 211.87Z" fill="#000"/>
<path d="M126.80 216.50L129.06 212.40L124.55 212.40Z" fill="#000"/>
<path d="M127.28 217.58L129.54 213.48L125.03 213.48Z" fill="#000"/>
<path d="M123.05 219.01L125.30 214.91L120.79 214.91Z" fill="#000"/>
<path d="M131.42 220.42L133.67 216.32L129.16 216.32Z" fill="#000"/>
<path d="M125.46 221.12L127.71 217.02L123.20 217.02Z" fill="#000"/>
<path d="M129.64 222.24L131.90 218.14L127.39 218.14Z" fill="#000"/>
<path d="M126.17 224.65L128.43 220.55L123.92 220.55Z" fill="#000"/>
<path d="M124.00 216.75H130.80" stroke="#111" stroke-width="0.8"/>
<path d="M145.10 200.95V203.93M142.70 200.95H147.50M142.70 203.93H147.50" stroke="#111" stroke-width="0.8" fill="none"/>
<path d="M146.39 197.48L148.85 199.94L146.39 202.40L143.93 199.94Z" fill="#000"/>
<path d="M145.64 198.72L148.10 201.18L145.64 203.64L143.18 201.18Z" fill="#000"/>
<path d="M143.95 199.28L146.41 201.74L143.95 204.20L141.49 201.74Z" fill="#000"/>
<path d="M144.91 199.68L147.37 202.14L144.91 204.60L142.45 202.14Z" fill="#000"/>
<path d="M140.78 199.81L143.24 202.27L140.78 204.73L138.32 202.27Z" fill="#000"/>
<path d="M148.98 200.45L151.44 202.91L148.98 205.37L146.52 202.91Z" fill="#000"/>
<path d="M143.26 201.00L145.72 203.46L143.26 205.92L140.80 203.46Z" fill="#000"/>
<path d="M146.94 201.40L149.40 203.86L146.94 206.32L144.48 203.86Z" fill="#000"/>
<path d="M143.82 202.20L146.28 204.66L143.82 207.12L141.36 204.66Z" fill="#000"/>
<path d="M141.70 202.44H148.50" stroke="#111" stroke-width="0.8"/>
<path d="M162.80 201.25V206.02M160.40 201.25H165.20M160.40 206.02H165.20" stroke="#111" stroke-width="0.8" fill="none"/>
<circle cx="163.43" cy="199.73" r="1.95" fill="#fff" fill-opacity="0.6" stroke="#8a8a8a" stroke-width="0.9"/>
<circle cx="160.84" cy="201.06" r="1.95" fill="#fff" fill-opacity="0.6" stroke="#8a8a8a" stroke-width="0.9"/>
<circle cx="166.37" cy="202.45" r="1.95" fill="#fff" fill-opacity="0.6" stroke="#8a8a8a" stroke-width="0.9"/>
<circle cx="158.80" cy="202.80" r="1.95" fill="#fff" fill-opacity="0.6" stroke="#8a8a8a" stroke-width="0.9"/>
<circle cx="162.20" cy="203.45" r="1.95" fill="#fff" fill-opacity="0.6" stroke="#8a8a8a" stroke-width="0.9"/>
<circle cx="163.76" cy="204.21" r="1.95" fill="#fff" fill-opacity="0.6" stroke="#8a8a8a" stroke-width="0.9"/>
<circle cx="162.88" cy="204.80" r="1.95" fill="#fff" fill-opacity="0.6" stroke="#8a8a8a" stroke-width="0.9"/>
<circle cx="167.22" cy="205.81" r="1.95" fill="#fff" fill-opacity="0.6" stroke="#8a8a8a" stroke-width="0.9"/>
<circle cx="160.98" cy="207.52" r="1.95" fill="#fff" fill-opacity="0.6" stroke="#8a8a8a" stroke-width="0.9"/>
<path d="M159.40 203.63H166.20" stroke="#111" stroke-width="0.8"/>
<path d="M180.50 182.18V192.91M178.10 182.18H182.90M178.10 192.91H182.90" stroke="#111" stroke-width="0.8" fill="none"/>
<rect x="176.69" y="177.61" width="3.69" height="3.69" fill="#fff" fill-opacity="0.6" stroke="#3c3c3c" stroke-width="0.9"/>
<rect x="180.28" y="180.06" width="3.69" height="3.69" fill="#fff" fill-opacity="0.6" stroke="#3c3c3c" stroke-width="0.9"/>
<rect x="176.36" y="183.04" width="3.69" height="3.69" fill="#fff" fill-opacity="0.6" stroke="#3c3c3c" stroke-width="0.9"/>
<rect x="181.83" y="184.55" width="3.69" height="3.69" fill="#fff" fill-opacity="0.6" stroke="#3c3c3c" stroke-width="0.9"/>
<rect x="175.33" y="185.82" width="3.69" height="3.69" fill="#fff" fill-opacity="0.6" stroke="#3c3c3c" stroke-width="0.9"/>
<rect x="178.20" y="187.55" width="3.69" height="3.69" fill="#fff" fill-opacity="0.6" stroke="#3c3c3c" stroke-width="0.9"/>
<rect x="179.82" y="189.14" width="3.69" height="3.69" fill="#fff" fill-opacity="0.6" stroke="#3c3c3c" stroke-width="0.9"/>
<rect x="178.81" y="190.88" width="3.69" height="3.69" fill="#fff" fill-opacity="0.6" stroke="#3c3c3c" stroke-width="0.9"/>
<rect x="180.75" y="193.97" width="3.69" height="3.69" fill="#fff" fill-opacity="0.6" stroke="#3c3c3c" stroke-width="0.9"/>
<path d="M177.10 187.54H183.90" stroke="#111" stroke-width="0.8"/>
<path d="M198.20 174.73V181.88M195.80 174.73H200.60M195.80 181.88H200.60" stroke="#111" stroke-width="0.8" fill="none"/>
<path d="M199.56 170.62L201.81 174.72L197.30 174.72Z" fill="#fff" fill-opacity="0.6" stroke="#d8d8d8" stroke-width="0.9"/>
<path d="M195.68 172.17L197.93 176.27L193.42 176.27Z" fill="#fff" fill-opacity="0.6" stroke="#d8d8d8" stroke-width="0.9"/>
<path d="M197.51 174.10L199.77 178.20L195.26 178.20Z" fill="#fff" fill-opacity="0.6" stroke="#d8d8d8" stroke-width="0.9"/>
<path d="M198.75 175.30L201.01 179.40L196.50 179.40Z" fill="#fff" fill-opacity="0.6" stroke="#d8d8d8" stroke-width="0.9"/>
<path d="M198.22 176.23L200.47 180.33L195.96 180.33Z" fill="#fff" fill-opacity="0.6" stroke="#d8d8d8" stroke-width="0.9"/>
<path d="M202.04 177.45L204.29 181.55L199.78 181.55Z" fill="#fff" fill-opacity="0.6" stroke="#d8d8d8" stroke-width="0.9"/>
<path d="M194.07 178.28L196.32 182.38L191.81 182.38Z" fill="#fff" fill-opacity="0.6" stroke="#d8d8d8" stroke-width="0.9"/>
<path d="M199.76 179.15L202.01 183.25L197.50 183.25Z" fill="#fff" fill-opacity="0.6" stroke="#d8d8d8" stroke-width="0.9"/>
<path d="M196.87 181.35L199.12 185.45L194.61 185.45Z" fill="#fff" fill-opacity="0.6" stroke="#d8d8d8" stroke-width="0.9"/>
<path d="M194.80 178.30H201.60" stroke="#111" stroke-width="0.8"/>
<text transform="translate(123.70 165.30) scale(0.92 1)" text-anchor="middle" font-family='"Liberation Serif", "Times New Roman", serif' font-weight="bold" font-size="13" fill="#111" stroke="#111" stroke-width="0.45">ALP</text>
<text transform="translate(31.90 208.50) rotate(-90)" text-anchor="middle" font-family='"Liberation Sans", Arial, sans-serif' font-weight="bold" font-size="7.4" fill="#111" stroke="#111" stroke-width="0.45">ALP (IU/L)</text></g>
<g><rect x="272.10" y="235.49" width="11.80" height="12.31" fill="none" stroke="#555" stroke-width="1.35"/>
<rect x="290.00" y="234.32" width="11.80" height="13.48" fill="none" stroke="#bbb" stroke-width="1.35"/>
<rect x="307.90" y="229.05" width="11.80" height="18.75" fill="none" stroke="#666" stroke-width="1.35"/>
<rect x="325.80" y="226.70" width="11.80" height="21.10" fill="none" stroke="#dcdcdc" stroke-width="1.35"/>
<rect x="343.70" y="217.04" width="11.80" height="30.77" fill="none" stroke="#2a2a2a" stroke-width="1.35"/>
<rect x="361.60" y="212.93" width="11.80" height="34.87" fill="none" stroke="#aaa" stroke-width="1.35"/>
<rect x="379.50" y="186.27" width="11.80" height="61.53" fill="none" stroke="#444" stroke-width="1.35"/>
<rect x="397.40" y="180.41" width="11.80" height="67.39" fill="none" stroke="#e8e8e8" stroke-width="1.35"/>
<path d="M265.80 159.40V248.30M265.30 247.80H415.40" stroke="#222" stroke-width="1.1" fill="none"/>
<path d="M262.50 247.80H265.80" stroke="#222" stroke-width="1"/>
<text x="262.00" y="250.25" text-anchor="end" font-family='"Liberation Sans", Arial, sans-serif' font-weight="bold" font-size="7" fill="#111" stroke="#111" stroke-width="0.45">0</text>
<path d="M262.50 218.50H265.80" stroke="#222" stroke-width="1"/>
<text x="262.00" y="220.95" text-anchor="end" font-family='"Liberation Sans", Arial, sans-serif' font-weight="bold" font-size="7" fill="#111" stroke="#111" stroke-width="0.45">10</text>
<path d="M262.50 189.20H265.80" stroke="#222" stroke-width="1"/>
<text x="262.00" y="191.65" text-anchor="end" font-family='"Liberation Sans", Arial, sans-serif' font-weight="bold" font-size="7" fill="#111" stroke="#111" stroke-width="0.45">20</text>
<path d="M262.50 159.90H265.80" stroke="#222" stroke-width="1"/>
<text x="262.00" y="162.35" text-anchor="end" font-family='"Liberation Sans", Arial, sans-serif' font-weight="bold" font-size="7" fill="#111" stroke="#111" stroke-width="0.45">30</text>
<path d="M278.00 247.80V251.00" stroke="#222" stroke-width="1"/>
<text transform="translate(280.70 257.90) rotate(-40)" text-anchor="end" font-family='"Liberation Sans", Arial, sans-serif' font-weight="bold" font-size="6.55" fill="#111" stroke="#111" stroke-width="0.45">M(0)</text>
<path d="M295.90 247.80V251.00" stroke="#222" stroke-width="1"/>
<text transform="translate(298.60 257.90) rotate(-40)" text-anchor="end" font-family='"Liberation Sans", Arial, sans-serif' font-weight="bold" font-size="6.55" fill="#111" stroke="#111" stroke-width="0.45">F(0)</text>
<path d="M313.80 247.80V251.00" stroke="#222" stroke-width="1"/>
<text transform="translate(316.50 257.90) rotate(-40)" text-anchor="end" font-family='"Liberation Sans", Arial, sans-serif' font-weight="bold" font-size="6.55" fill="#111" stroke="#111" stroke-width="0.45">M(0.1g/kg)</text>
<path d="M331.70 247.80V251.00" stroke="#222" stroke-width="1"/>
<text transform="translate(334.40 257.90) rotate(-40)" text-anchor="end" font-family='"Liberation Sans", Arial, sans-serif' font-weight="bold" font-size="6.55" fill="#111" stroke="#111" stroke-width="0.45">F(0.1g/kg)</text>
<path d="M349.60 247.80V251.00" stroke="#222" stroke-width="1"/>
<text transform="translate(352.30 257.90) rotate(-40)" text-anchor="end" font-family='"Liberation Sans", Arial, sans-serif' font-weight="bold" font-size="6.55" fill="#111" stroke="#111" stroke-width="0.45">M(0.25g/kg)</text>
<path d="M367.50 247.80V251.00" stroke="#222" stroke-width="1"/>
<text transform="translate(370.20 257.90) rotate(-40)" text-anchor="end" font-family='"Liberation Sans", Arial, sans-serif' font-weight="bold" font-size="6.55" fill="#111" stroke="#111" stroke-width="0.45">F(0.25g/kg)</text>
<path d="M385.40 247.80V251.00" stroke="#222" stroke-width="1"/>
<text transform="translate(388.10 257.90) rotate(-40)" text-anchor="end" font-family='"Liberation Sans", Arial, sans-serif' font-weight="bold" font-size="6.55" fill="#111" stroke="#111" stroke-width="0.45">M(0.5g/kg)</text>
<path d="M403.30 247.80V251.00" stroke="#222" stroke-width="1"/>
<text transform="translate(406.00 257.90) rotate(-40)" text-anchor="end" font-family='"Liberation Sans", Arial, sans-serif' font-weight="bold" font-size="6.55" fill="#111" stroke="#111" stroke-width="0.45">F(0.5g/kg)</text>
<path d="M278.00 234.32V236.67M275.60 234.32H280.40M275.60 236.67H280.40" stroke="#111" stroke-width="0.8" fill="none"/>
<circle cx="279.08" cy="233.75" r="2.05" fill="#000"/>
<circle cx="276.12" cy="234.47" r="2.05" fill="#000"/>
<circle cx="281.22" cy="234.69" r="2.05" fill="#000"/>
<circle cx="274.48" cy="235.17" r="2.05" fill="#000"/>
<circle cx="277.53" cy="235.56" r="2.05" fill="#000"/>
<circle cx="279.03" cy="235.82" r="2.05" fill="#000"/>
<circle cx="278.16" cy="236.27" r="2.05" fill="#000"/>
<circle cx="281.63" cy="236.73" r="2.05" fill="#000"/>
<circle cx="275.99" cy="237.29" r="2.05" fill="#000"/>
<path d="M274.60 235.49H281.40" stroke="#111" stroke-width="0.8"/>
<path d="M295.90 232.86V235.79M293.50 232.86H298.30M293.50 235.79H298.30" stroke="#111" stroke-width="0.8" fill="none"/>
<rect x="295.75" y="229.99" width="3.69" height="3.69" fill="#000"/>
<rect x="290.37" y="230.94" width="3.69" height="3.69" fill="#000"/>
<rect x="295.90" y="231.53" width="3.69" height="3.69" fill="#000"/>
<rect x="291.73" y="232.15" width="3.69" height="3.69" fill="#000"/>
<rect x="297.25" y="232.41" width="3.69" height="3.69" fill="#000"/>
<rect x="290.38" y="232.91" width="3.69" height="3.69" fill="#000"/>
<rect x="293.83" y="233.17" width="3.69" height="3.69" fill="#000"/>
<rect x="294.75" y="233.74" width="3.69" height="3.69" fill="#000"/>
<rect x="294.34" y="234.73" width="3.69" height="3.69" fill="#000"/>
<path d="M292.50 234.32H299.30" stroke="#111" stroke-width="0.8"/>
<path d="M313.80 227.29V230.81M311.40 227.29H316.20M311.40 230.81H316.20" stroke="#111" stroke-width="0.8" fill="none"/>
<path d="M314.99 224.18L317.24 228.28L312.73 228.28Z" fill="#000"/>
<path d="M311.37 224.89L313.62 228.99L309.11 228.99Z" fill="#000"/>
<path d="M317.73 225.74L319.99 229.84L315.48 229.84Z" fill="#000"/>
<path d="M309.87 226.43L312.13 230.53L307.62 230.53Z" fill="#000"/>
<path d="M313.02 226.99L315.27 231.09L310.76 231.09Z" fill="#000"/>
<path d="M315.11 227.27L317.37 231.37L312.86 231.37Z" fill="#000"/>
<path d="M313.81 227.73L316.06 231.83L311.55 231.83Z" fill="#000"/>
<path d="M318.93 228.37L321.19 232.47L316.68 232.47Z" fill="#000"/>
<path d="M312.01 229.78L314.26 233.88L309.75 233.88Z" fill="#000"/>
<path d="M310.40 229.05H317.20" stroke="#111" stroke-width="0.8"/>
<path d="M331.70 225.53V227.88M329.30 225.53H334.10M329.30 227.88H334.10" stroke="#111" stroke-width="0.8" fill="none"/>
<path d="M330.39 227.02L332.64 222.92L328.13 222.92Z" fill="#000"/>
<path d="M335.00 227.94L337.26 223.84L332.75 223.84Z" fill="#000"/>
<path d="M331.84 228.26L334.10 224.16L329.59 224.16Z" fill="#000"/>
<path d="M330.97 228.49L333.23 224.39L328.72 224.39Z" fill="#000"/>
<path d="M331.90 228.82L334.16 224.72L329.65 224.72Z" fill="#000"/>
<path d="M327.29 229.29L329.55 225.19L325.04 225.19Z" fill="#000"/>
<path d="M336.14 229.64L338.39 225.54L333.88 225.54Z" fill="#000"/>
<path d="M330.23 230.04L332.49 225.94L327.98 225.94Z" fill="#000"/>
<path d="M333.03 230.73L335.29 226.63L330.78 226.63Z" fill="#000"/>
<path d="M328.30 226.70H335.10" stroke="#111" stroke-width="0.8"/>
<path d="M349.60 214.98V219.09M347.20 214.98H352.00M347.20 219.09H352.00" stroke="#111" stroke-width="0.8" fill="none"/>
<path d="M351.47 211.20L353.93 213.66L351.47 216.12L349.01 213.66Z" fill="#000"/>
<path d="M345.91 212.53L348.37 214.99L345.91 217.45L343.45 214.99Z" fill="#000"/>
<path d="M351.62 213.31L354.08 215.77L351.62 218.23L349.16 215.77Z" fill="#000"/>
<path d="M347.25 214.24L349.71 216.70L347.25 219.16L344.79 216.70Z" fill="#000"/>
<path d="M352.54 214.62L355.00 217.08L352.54 219.54L350.08 217.08Z" fill="#000"/>
<path d="M346.31 215.09L348.77 217.55L346.31 220.01L343.85 217.55Z" fill="#000"/>
<path d="M348.97 215.75L351.43 218.21L348.97 220.67L346.51 218.21Z" fill="#000"/>
<path d="M350.33 216.45L352.79 218.91L350.33 221.37L347.87 218.91Z" fill="#000"/>
<path d="M349.87 217.62L352.33 220.08L349.87 222.54L347.41 220.08Z" fill="#000"/>
<path d="M346.20 217.04H353.00" stroke="#111" stroke-width="0.8"/>
<path d="M367.50 210.88V214.98M365.10 210.88H369.90M365.10 214.98H369.90" stroke="#111" stroke-width="0.8" fill="none"/>
<circle cx="367.32" cy="209.85" r="1.95" fill="#fff" fill-opacity="0.6" stroke="#8a8a8a" stroke-width="0.9"/>
<circle cx="368.37" cy="211.10" r="1.95" fill="#fff" fill-opacity="0.6" stroke="#8a8a8a" stroke-width="0.9"/>
<circle cx="367.23" cy="211.79" r="1.95" fill="#fff" fill-opacity="0.6" stroke="#8a8a8a" stroke-width="0.9"/>
<circle cx="372.89" cy="212.56" r="1.95" fill="#fff" fill-opacity="0.6" stroke="#8a8a8a" stroke-width="0.9"/>
<circle cx="362.15" cy="213.15" r="1.95" fill="#fff" fill-opacity="0.6" stroke="#8a8a8a" stroke-width="0.9"/>
<circle cx="369.64" cy="213.54" r="1.95" fill="#fff" fill-opacity="0.6" stroke="#8a8a8a" stroke-width="0.9"/>
<circle cx="364.71" cy="214.25" r="1.95" fill="#fff" fill-opacity="0.6" stroke="#8a8a8a" stroke-width="0.9"/>
<circle cx="370.96" cy="214.70" r="1.95" fill="#fff" fill-opacity="0.6" stroke="#8a8a8a" stroke-width="0.9"/>
<circle cx="366.04" cy="216.32" r="1.95" fill="#fff" fill-opacity="0.6" stroke="#8a8a8a" stroke-width="0.9"/>
<path d="M364.10 212.93H370.90" stroke="#111" stroke-width="0.8"/>
<path d="M385.40 182.46V190.08M383.00 182.46H387.80M383.00 190.08H387.80" stroke="#111" stroke-width="0.8" fill="none"/>
<rect x="383.29" y="178.79" width="3.69" height="3.69" fill="#fff" fill-opacity="0.6" stroke="#3c3c3c" stroke-width="0.9"/>
<rect x="384.22" y="180.52" width="3.69" height="3.69" fill="#fff" fill-opacity="0.6" stroke="#3c3c3c" stroke-width="0.9"/>
<rect x="383.71" y="182.32" width="3.69" height="3.69" fill="#fff" fill-opacity="0.6" stroke="#3c3c3c" stroke-width="0.9"/>
<rect x="387.88" y="183.17" width="3.69" height="3.69" fill="#fff" fill-opacity="0.6" stroke="#3c3c3c" stroke-width="0.9"/>
<rect x="379.21" y="184.48" width="3.69" height="3.69" fill="#fff" fill-opacity="0.6" stroke="#3c3c3c" stroke-width="0.9"/>
<rect x="385.24" y="185.40" width="3.69" height="3.69" fill="#fff" fill-opacity="0.6" stroke="#3c3c3c" stroke-width="0.9"/>
<rect x="381.06" y="186.37" width="3.69" height="3.69" fill="#fff" fill-opacity="0.6" stroke="#3c3c3c" stroke-width="0.9"/>
<rect x="386.58" y="187.80" width="3.69" height="3.69" fill="#fff" fill-opacity="0.6" stroke="#3c3c3c" stroke-width="0.9"/>
<rect x="381.78" y="190.23" width="3.69" height="3.69" fill="#fff" fill-opacity="0.6" stroke="#3c3c3c" stroke-width="0.9"/>
<path d="M382.00 186.27H388.80" stroke="#111" stroke-width="0.8"/>
<path d="M403.30 177.48V183.34M400.90 177.48H405.70M400.90 183.34H405.70" stroke="#111" stroke-width="0.8" fill="none"/>
<path d="M403.17 173.39L405.42 177.49L400.91 177.49Z" fill="#fff" fill-opacity="0.6" stroke="#d8d8d8" stroke-width="0.9"/>
<path d="M399.89 175.54L402.15 179.64L397.64 179.64Z" fill="#fff" fill-opacity="0.6" stroke="#d8d8d8" stroke-width="0.9"/>
<path d="M407.07 176.22L409.32 180.32L404.81 180.32Z" fill="#fff" fill-opacity="0.6" stroke="#d8d8d8" stroke-width="0.9"/>
<path d="M401.62 176.99L403.88 181.09L399.37 181.09Z" fill="#fff" fill-opacity="0.6" stroke="#d8d8d8" stroke-width="0.9"/>
<path d="M405.48 178.42L407.73 182.52L403.22 182.52Z" fill="#fff" fill-opacity="0.6" stroke="#d8d8d8" stroke-width="0.9"/>
<path d="M400.58 178.90L402.83 183.00L398.32 183.00Z" fill="#fff" fill-opacity="0.6" stroke="#d8d8d8" stroke-width="0.9"/>
<path d="M406.28 180.05L408.53 184.15L404.02 184.15Z" fill="#fff" fill-opacity="0.6" stroke="#d8d8d8" stroke-width="0.9"/>
<path d="M403.55 180.79L405.80 184.89L401.29 184.89Z" fill="#fff" fill-opacity="0.6" stroke="#d8d8d8" stroke-width="0.9"/>
<path d="M402.75 182.66L405.01 186.76L400.50 186.76Z" fill="#fff" fill-opacity="0.6" stroke="#d8d8d8" stroke-width="0.9"/>
<path d="M399.90 180.41H406.70" stroke="#111" stroke-width="0.8"/>
<text transform="translate(325.40 164.50) scale(0.92 1)" text-anchor="middle" font-family='"Liberation Serif", "Times New Roman", serif' font-weight="bold" font-size="13" fill="#111" stroke="#111" stroke-width="0.45">γ-GT</text>
<text transform="translate(239.60 203.80) rotate(-90)" text-anchor="middle" font-family='"Liberation Sans", Arial, sans-serif' font-weight="bold" font-size="7.4" fill="#111" stroke="#111" stroke-width="0.45">γ-GT (U/L)</text></g>
<g><rect x="67.10" y="378.63" width="11.80" height="17.77" fill="none" stroke="#888" stroke-width="1.35"/>
<rect x="84.80" y="379.77" width="11.80" height="16.63" fill="none" stroke="#888" stroke-width="1.35"/>
<rect x="102.50" y="360.85" width="11.80" height="35.55" fill="none" stroke="#555" stroke-width="1.35"/>
<rect x="120.20" y="362.23" width="11.80" height="34.17" fill="none" stroke="#dcdcdc" stroke-width="1.35"/>
<rect x="137.90" y="355.69" width="11.80" height="40.71" fill="none" stroke="#333" stroke-width="1.35"/>
<rect x="155.60" y="354.55" width="11.80" height="41.85" fill="none" stroke="#aaa" stroke-width="1.35"/>
<rect x="173.30" y="336.77" width="11.80" height="59.63" fill="none" stroke="#444" stroke-width="1.35"/>
<rect x="191.00" y="331.04" width="11.80" height="65.36" fill="none" stroke="#e8e8e8" stroke-width="1.35"/>
<path d="M61.50 309.90V396.90M61.00 396.40H208.20" stroke="#222" stroke-width="1.1" fill="none"/>
<path d="M58.20 396.40H61.50" stroke="#222" stroke-width="1"/>
<text x="57.70" y="398.85" text-anchor="end" font-family='"Liberation Sans", Arial, sans-serif' font-weight="bold" font-size="7" fill="#111" stroke="#111" stroke-width="0.45">0</text>
<path d="M58.20 367.73H61.50" stroke="#222" stroke-width="1"/>
<text x="57.70" y="370.18" text-anchor="end" font-family='"Liberation Sans", Arial, sans-serif' font-weight="bold" font-size="7" fill="#111" stroke="#111" stroke-width="0.45">5</text>
<path d="M58.20 339.07H61.50" stroke="#222" stroke-width="1"/>
<text x="57.70" y="341.52" text-anchor="end" font-family='"Liberation Sans", Arial, sans-serif' font-weight="bold" font-size="7" fill="#111" stroke="#111" stroke-width="0.45">10</text>
<path d="M58.20 310.40H61.50" stroke="#222" stroke-width="1"/>
<text x="57.70" y="312.85" text-anchor="end" font-family='"Liberation Sans", Arial, sans-serif' font-weight="bold" font-size="7" fill="#111" stroke="#111" stroke-width="0.45">15</text>
<path d="M73.00 396.40V399.60" stroke="#222" stroke-width="1"/>
<text transform="translate(75.70 406.50) rotate(-40)" text-anchor="end" font-family='"Liberation Sans", Arial, sans-serif' font-weight="bold" font-size="6.55" fill="#111" stroke="#111" stroke-width="0.45">M(0)</text>
<path d="M90.70 396.40V399.60" stroke="#222" stroke-width="1"/>
<text transform="translate(93.40 406.50) rotate(-40)" text-anchor="end" font-family='"Liberation Sans", Arial, sans-serif' font-weight="bold" font-size="6.55" fill="#111" stroke="#111" stroke-width="0.45">F(0)</text>
<path d="M108.40 396.40V399.60" stroke="#222" stroke-width="1"/>
<text transform="translate(111.10 406.50) rotate(-40)" text-anchor="end" font-family='"Liberation Sans", Arial, sans-serif' font-weight="bold" font-size="6.55" fill="#111" stroke="#111" stroke-width="0.45">M(0.1g/kg)</text>
<path d="M126.10 396.40V399.60" stroke="#222" stroke-width="1"/>
<text transform="translate(128.80 406.50) rotate(-40)" text-anchor="end" font-family='"Liberation Sans", Arial, sans-serif' font-weight="bold" font-size="6.55" fill="#111" stroke="#111" stroke-width="0.45">F(0.1g/kg)</text>
<path d="M143.80 396.40V399.60" stroke="#222" stroke-width="1"/>
<text transform="translate(146.50 406.50) rotate(-40)" text-anchor="end" font-family='"Liberation Sans", Arial, sans-serif' font-weight="bold" font-size="6.55" fill="#111" stroke="#111" stroke-width="0.45">M(0.25g/kg)</text>
<path d="M161.50 396.40V399.60" stroke="#222" stroke-width="1"/>
<text transform="translate(164.20 406.50) rotate(-40)" text-anchor="end" font-family='"Liberation Sans", Arial, sans-serif' font-weight="bold" font-size="6.55" fill="#111" stroke="#111" stroke-width="0.45">F(0.25g/kg)</text>
<path d="M179.20 396.40V399.60" stroke="#222" stroke-width="1"/>
<text transform="translate(181.90 406.50) rotate(-40)" text-anchor="end" font-family='"Liberation Sans", Arial, sans-serif' font-weight="bold" font-size="6.55" fill="#111" stroke="#111" stroke-width="0.45">M(0.5g/kg)</text>
<path d="M196.90 396.40V399.60" stroke="#222" stroke-width="1"/>
<text transform="translate(199.60 406.50) rotate(-40)" text-anchor="end" font-family='"Liberation Sans", Arial, sans-serif' font-weight="bold" font-size="6.55" fill="#111" stroke="#111" stroke-width="0.45">F(0.5g/kg)</text>
<path d="M73.00 376.91V380.35M70.60 376.91H75.40M70.60 380.35H75.40" stroke="#111" stroke-width="0.8" fill="none"/>
<circle cx="72.89" cy="375.84" r="2.05" fill="#000"/>
<circle cx="72.14" cy="376.94" r="2.05" fill="#000"/>
<circle cx="73.26" cy="377.80" r="2.05" fill="#000"/>
<circle cx="68.83" cy="378.29" r="2.05" fill="#000"/>
<circle cx="77.58" cy="378.78" r="2.05" fill="#000"/>
<circle cx="71.44" cy="378.91" r="2.05" fill="#000"/>
<circle cx="75.15" cy="379.45" r="2.05" fill="#000"/>
<circle cx="70.07" cy="380.38" r="2.05" fill="#000"/>
<circle cx="74.06" cy="381.53" r="2.05" fill="#000"/>
<path d="M69.60 378.63H76.40" stroke="#111" stroke-width="0.8"/>
<path d="M90.70 378.05V381.49M88.30 378.05H93.10M88.30 381.49H93.10" stroke="#111" stroke-width="0.8" fill="none"/>
<rect x="86.98" y="375.20" width="3.69" height="3.69" fill="#000"/>
<rect x="90.24" y="376.34" width="3.69" height="3.69" fill="#000"/>
<rect x="86.68" y="377.10" width="3.69" height="3.69" fill="#000"/>
<rect x="92.35" y="377.53" width="3.69" height="3.69" fill="#000"/>
<rect x="85.48" y="377.99" width="3.69" height="3.69" fill="#000"/>
<rect x="88.41" y="378.52" width="3.69" height="3.69" fill="#000"/>
<rect x="89.74" y="378.92" width="3.69" height="3.69" fill="#000"/>
<rect x="89.01" y="379.61" width="3.69" height="3.69" fill="#000"/>
<rect x="90.85" y="380.48" width="3.69" height="3.69" fill="#000"/>
<path d="M87.30 379.77H94.10" stroke="#111" stroke-width="0.8"/>
<path d="M108.40 359.13V362.57M106.00 359.13H110.80M106.00 362.57H110.80" stroke="#111" stroke-width="0.8" fill="none"/>
<path d="M110.24 355.78L112.49 359.88L107.98 359.88Z" fill="#000"/>
<path d="M103.55 357.12L105.81 361.22L101.30 361.22Z" fill="#000"/>
<path d="M107.59 357.46L109.84 361.56L105.33 361.56Z" fill="#000"/>
<path d="M110.00 358.01L112.25 362.11L107.74 362.11Z" fill="#000"/>
<path d="M108.52 358.72L110.78 362.82L106.27 362.82Z" fill="#000"/>
<path d="M114.55 358.88L116.81 362.98L112.30 362.98Z" fill="#000"/>
<path d="M101.84 359.63L104.10 363.73L99.59 363.73Z" fill="#000"/>
<path d="M110.48 360.47L112.74 364.57L108.23 364.57Z" fill="#000"/>
<path d="M106.95 361.25L109.20 365.35L104.69 365.35Z" fill="#000"/>
<path d="M105.00 360.85H111.80" stroke="#111" stroke-width="0.8"/>
<path d="M126.10 360.22V364.24M123.70 360.22H128.50M123.70 364.24H128.50" stroke="#111" stroke-width="0.8" fill="none"/>
<path d="M126.95 361.25L129.21 357.15L124.70 357.15Z" fill="#000"/>
<path d="M124.58 362.43L126.83 358.33L122.32 358.33Z" fill="#000"/>
<path d="M128.90 363.38L131.16 359.28L126.65 359.28Z" fill="#000"/>
<path d="M122.92 364.12L125.18 360.02L120.67 360.02Z" fill="#000"/>
<path d="M125.98 364.35L128.24 360.25L123.73 360.25Z" fill="#000"/>
<path d="M126.79 364.83L129.04 360.73L124.53 360.73Z" fill="#000"/>
<path d="M126.29 365.59L128.55 361.49L124.04 361.49Z" fill="#000"/>
<path d="M129.31 366.39L131.56 362.29L127.05 362.29Z" fill="#000"/>
<path d="M124.40 367.77L126.65 363.67L122.14 363.67Z" fill="#000"/>
<path d="M122.70 362.23H129.50" stroke="#111" stroke-width="0.8"/>
<path d="M143.80 353.97V357.41M141.40 353.97H146.20M141.40 357.41H146.20" stroke="#111" stroke-width="0.8" fill="none"/>
<path d="M146.44 350.60L148.90 353.06L146.44 355.52L143.98 353.06Z" fill="#000"/>
<path d="M141.37 351.48L143.83 353.94L141.37 356.40L138.91 353.94Z" fill="#000"/>
<path d="M147.06 352.41L149.52 354.87L147.06 357.33L144.60 354.87Z" fill="#000"/>
<path d="M139.27 352.75L141.73 355.21L139.27 357.67L136.81 355.21Z" fill="#000"/>
<path d="M148.73 353.10L151.19 355.56L148.73 358.02L146.27 355.56Z" fill="#000"/>
<path d="M144.25 353.60L146.71 356.06L144.25 358.52L141.79 356.06Z" fill="#000"/>
<path d="M142.49 354.21L144.95 356.67L142.49 359.13L140.03 356.67Z" fill="#000"/>
<path d="M143.93 354.97L146.39 357.43L143.93 359.89L141.47 357.43Z" fill="#000"/>
<path d="M141.50 356.16L143.96 358.62L141.50 361.08L139.04 358.62Z" fill="#000"/>
<path d="M140.40 355.69H147.20" stroke="#111" stroke-width="0.8"/>
<path d="M161.50 349.96V359.13M159.10 349.96H163.90M159.10 359.13H163.90" stroke="#111" stroke-width="0.8" fill="none"/>
<circle cx="160.27" cy="346.81" r="1.95" fill="#fff" fill-opacity="0.6" stroke="#8a8a8a" stroke-width="0.9"/>
<circle cx="164.03" cy="349.65" r="1.95" fill="#fff" fill-opacity="0.6" stroke="#8a8a8a" stroke-width="0.9"/>
<circle cx="161.71" cy="351.47" r="1.95" fill="#fff" fill-opacity="0.6" stroke="#8a8a8a" stroke-width="0.9"/>
<circle cx="160.33" cy="352.91" r="1.95" fill="#fff" fill-opacity="0.6" stroke="#8a8a8a" stroke-width="0.9"/>
<circle cx="161.45" cy="354.71" r="1.95" fill="#fff" fill-opacity="0.6" stroke="#8a8a8a" stroke-width="0.9"/>
<circle cx="157.36" cy="355.87" r="1.95" fill="#fff" fill-opacity="0.6" stroke="#8a8a8a" stroke-width="0.9"/>
<circle cx="165.91" cy="357.21" r="1.95" fill="#fff" fill-opacity="0.6" stroke="#8a8a8a" stroke-width="0.9"/>
<circle cx="159.99" cy="358.78" r="1.95" fill="#fff" fill-opacity="0.6" stroke="#8a8a8a" stroke-width="0.9"/>
<circle cx="162.34" cy="362.10" r="1.95" fill="#fff" fill-opacity="0.6" stroke="#8a8a8a" stroke-width="0.9"/>
<path d="M158.10 354.55H164.90" stroke="#111" stroke-width="0.8"/>
<path d="M179.20 332.19V341.36M176.80 332.19H181.60M176.80 341.36H181.60" stroke="#111" stroke-width="0.8" fill="none"/>
<rect x="177.13" y="327.92" width="3.69" height="3.69" fill="#fff" fill-opacity="0.6" stroke="#3c3c3c" stroke-width="0.9"/>
<rect x="178.26" y="330.28" width="3.69" height="3.69" fill="#fff" fill-opacity="0.6" stroke="#3c3c3c" stroke-width="0.9"/>
<rect x="177.43" y="332.56" width="3.69" height="3.69" fill="#fff" fill-opacity="0.6" stroke="#3c3c3c" stroke-width="0.9"/>
<rect x="183.28" y="333.18" width="3.69" height="3.69" fill="#fff" fill-opacity="0.6" stroke="#3c3c3c" stroke-width="0.9"/>
<rect x="171.30" y="335.15" width="3.69" height="3.69" fill="#fff" fill-opacity="0.6" stroke="#3c3c3c" stroke-width="0.9"/>
<rect x="179.85" y="335.89" width="3.69" height="3.69" fill="#fff" fill-opacity="0.6" stroke="#3c3c3c" stroke-width="0.9"/>
<rect x="174.39" y="337.68" width="3.69" height="3.69" fill="#fff" fill-opacity="0.6" stroke="#3c3c3c" stroke-width="0.9"/>
<rect x="180.98" y="339.31" width="3.69" height="3.69" fill="#fff" fill-opacity="0.6" stroke="#3c3c3c" stroke-width="0.9"/>
<rect x="174.98" y="342.04" width="3.69" height="3.69" fill="#fff" fill-opacity="0.6" stroke="#3c3c3c" stroke-width="0.9"/>
<path d="M175.80 336.77H182.60" stroke="#111" stroke-width="0.8"/>
<path d="M196.90 324.73V337.35M194.50 324.73H199.30M194.50 337.35H199.30" stroke="#111" stroke-width="0.8" fill="none"/>
<path d="M196.13 318.08L198.38 322.18L193.87 322.18Z" fill="#fff" fill-opacity="0.6" stroke="#d8d8d8" stroke-width="0.9"/>
<path d="M200.07 322.84L202.33 326.94L197.82 326.94Z" fill="#fff" fill-opacity="0.6" stroke="#d8d8d8" stroke-width="0.9"/>
<path d="M193.33 324.86L195.59 328.96L191.08 328.96Z" fill="#fff" fill-opacity="0.6" stroke="#d8d8d8" stroke-width="0.9"/>
<path d="M196.67 326.76L198.92 330.86L194.41 330.86Z" fill="#fff" fill-opacity="0.6" stroke="#d8d8d8" stroke-width="0.9"/>
<path d="M197.64 329.47L199.89 333.57L195.38 333.57Z" fill="#fff" fill-opacity="0.6" stroke="#d8d8d8" stroke-width="0.9"/>
<path d="M197.10 329.87L199.35 333.97L194.84 333.97Z" fill="#fff" fill-opacity="0.6" stroke="#d8d8d8" stroke-width="0.9"/>
<path d="M201.41 332.88L203.67 336.98L199.16 336.98Z" fill="#fff" fill-opacity="0.6" stroke="#d8d8d8" stroke-width="0.9"/>
<path d="M193.03 335.17L195.29 339.27L190.78 339.27Z" fill="#fff" fill-opacity="0.6" stroke="#d8d8d8" stroke-width="0.9"/>
<path d="M197.61 339.48L199.86 343.58L195.35 343.58Z" fill="#fff" fill-opacity="0.6" stroke="#d8d8d8" stroke-width="0.9"/>
<path d="M193.50 331.04H200.30" stroke="#111" stroke-width="0.8"/>
<text transform="translate(125.40 312.70) scale(0.92 1)" text-anchor="middle" font-family='"Liberation Serif", "Times New Roman", serif' font-weight="bold" font-size="13" fill="#111" stroke="#111" stroke-width="0.45">TBil</text>
<text transform="translate(35.10 353.40) rotate(-90)" text-anchor="middle" font-family='"Liberation Sans", Arial, sans-serif' font-weight="bold" font-size="7.4" fill="#111" stroke="#111" stroke-width="0.45">Tbil (μM)</text></g>
<g><rect x="274.50" y="387.00" width="11.80" height="9.70" fill="none" stroke="#444" stroke-width="1.35"/>
<rect x="292.45" y="386.19" width="11.80" height="10.51" fill="none" stroke="#777" stroke-width="1.35"/>
<rect x="310.40" y="368.60" width="11.80" height="28.10" fill="none" stroke="#666" stroke-width="1.35"/>
<rect x="328.35" y="369.12" width="11.80" height="27.58" fill="none" stroke="#dcdcdc" stroke-width="1.35"/>
<rect x="346.30" y="359.38" width="11.80" height="37.32" fill="none" stroke="#2a2a2a" stroke-width="1.35"/>
<rect x="364.25" y="360.66" width="11.80" height="36.04" fill="none" stroke="#999" stroke-width="1.35"/>
<rect x="382.20" y="348.22" width="11.80" height="48.48" fill="none" stroke="#444" stroke-width="1.35"/>
<rect x="400.15" y="333.89" width="11.80" height="62.81" fill="none" stroke="#e8e8e8" stroke-width="1.35"/>
<path d="M268.90 310.40V397.20M268.40 396.70H419.30" stroke="#222" stroke-width="1.1" fill="none"/>
<path d="M265.60 396.70H268.90" stroke="#222" stroke-width="1"/>
<text x="265.10" y="399.15" text-anchor="end" font-family='"Liberation Sans", Arial, sans-serif' font-weight="bold" font-size="7" fill="#111" stroke="#111" stroke-width="0.45">0</text>
<path d="M265.60 375.25H268.90" stroke="#222" stroke-width="1"/>
<text x="265.10" y="377.70" text-anchor="end" font-family='"Liberation Sans", Arial, sans-serif' font-weight="bold" font-size="7" fill="#111" stroke="#111" stroke-width="0.45">50</text>
<path d="M265.60 353.80H268.90" stroke="#222" stroke-width="1"/>
<text x="265.10" y="356.25" text-anchor="end" font-family='"Liberation Sans", Arial, sans-serif' font-weight="bold" font-size="7" fill="#111" stroke="#111" stroke-width="0.45">100</text>
<path d="M265.60 332.35H268.90" stroke="#222" stroke-width="1"/>
<text x="265.10" y="334.80" text-anchor="end" font-family='"Liberation Sans", Arial, sans-serif' font-weight="bold" font-size="7" fill="#111" stroke="#111" stroke-width="0.45">150</text>
<path d="M265.60 310.90H268.90" stroke="#222" stroke-width="1"/>
<text x="265.10" y="313.35" text-anchor="end" font-family='"Liberation Sans", Arial, sans-serif' font-weight="bold" font-size="7" fill="#111" stroke="#111" stroke-width="0.45">200</text>
<path d="M280.40 396.70V399.90" stroke="#222" stroke-width="1"/>
<text transform="translate(283.10 406.80) rotate(-40)" text-anchor="end" font-family='"Liberation Sans", Arial, sans-serif' font-weight="bold" font-size="6.55" fill="#111" stroke="#111" stroke-width="0.45">M(0)</text>
<path d="M298.35 396.70V399.90" stroke="#222" stroke-width="1"/>
<text transform="translate(301.05 406.80) rotate(-40)" text-anchor="end" font-family='"Liberation Sans", Arial, sans-serif' font-weight="bold" font-size="6.55" fill="#111" stroke="#111" stroke-width="0.45">F(0)</text>
<path d="M316.30 396.70V399.90" stroke="#222" stroke-width="1"/>
<text transform="translate(319.00 406.80) rotate(-40)" text-anchor="end" font-family='"Liberation Sans", Arial, sans-serif' font-weight="bold" font-size="6.55" fill="#111" stroke="#111" stroke-width="0.45">M(0.1g/kg)</text>
<path d="M334.25 396.70V399.90" stroke="#222" stroke-width="1"/>
<text transform="translate(336.95 406.80) rotate(-40)" text-anchor="end" font-family='"Liberation Sans", Arial, sans-serif' font-weight="bold" font-size="6.55" fill="#111" stroke="#111" stroke-width="0.45">F(0.1g/kg)</text>
<path d="M352.20 396.70V399.90" stroke="#222" stroke-width="1"/>
<text transform="translate(354.90 406.80) rotate(-40)" text-anchor="end" font-family='"Liberation Sans", Arial, sans-serif' font-weight="bold" font-size="6.55" fill="#111" stroke="#111" stroke-width="0.45">M(0.25g/kg)</text>
<path d="M370.15 396.70V399.90" stroke="#222" stroke-width="1"/>
<text transform="translate(372.85 406.80) rotate(-40)" text-anchor="end" font-family='"Liberation Sans", Arial, sans-serif' font-weight="bold" font-size="6.55" fill="#111" stroke="#111" stroke-width="0.45">F(0.25g/kg)</text>
<path d="M388.10 396.70V399.90" stroke="#222" stroke-width="1"/>
<text transform="translate(390.80 406.80) rotate(-40)" text-anchor="end" font-family='"Liberation Sans", Arial, sans-serif' font-weight="bold" font-size="6.55" fill="#111" stroke="#111" stroke-width="0.45">M(0.5g/kg)</text>
<path d="M406.05 396.70V399.90" stroke="#222" stroke-width="1"/>
<text transform="translate(408.75 406.80) rotate(-40)" text-anchor="end" font-family='"Liberation Sans", Arial, sans-serif' font-weight="bold" font-size="6.55" fill="#111" stroke="#111" stroke-width="0.45">F(0.5g/kg)</text>
<path d="M280.40 385.72V388.29M278.00 385.72H282.80M278.00 388.29H282.80" stroke="#111" stroke-width="0.8" fill="none"/>
<circle cx="278.19" cy="385.04" r="2.05" fill="#000"/>
<circle cx="281.99" cy="385.85" r="2.05" fill="#000"/>
<circle cx="278.02" cy="386.37" r="2.05" fill="#000"/>
<circle cx="283.79" cy="386.74" r="2.05" fill="#000"/>
<circle cx="276.70" cy="386.89" r="2.05" fill="#000"/>
<circle cx="279.76" cy="387.37" r="2.05" fill="#000"/>
<circle cx="281.47" cy="387.61" r="2.05" fill="#000"/>
<circle cx="280.25" cy="388.38" r="2.05" fill="#000"/>
<circle cx="282.18" cy="388.99" r="2.05" fill="#000"/>
<path d="M277.00 387.00H283.80" stroke="#111" stroke-width="0.8"/>
<path d="M298.35 384.90V387.48M295.95 384.90H300.75M295.95 387.48H300.75" stroke="#111" stroke-width="0.8" fill="none"/>
<rect x="296.47" y="382.15" width="3.69" height="3.69" fill="#000"/>
<rect x="295.47" y="383.12" width="3.69" height="3.69" fill="#000"/>
<rect x="296.48" y="383.53" width="3.69" height="3.69" fill="#000"/>
<rect x="292.37" y="384.13" width="3.69" height="3.69" fill="#000"/>
<rect x="300.72" y="384.46" width="3.69" height="3.69" fill="#000"/>
<rect x="294.69" y="384.86" width="3.69" height="3.69" fill="#000"/>
<rect x="298.97" y="385.03" width="3.69" height="3.69" fill="#000"/>
<rect x="293.63" y="385.46" width="3.69" height="3.69" fill="#000"/>
<rect x="298.41" y="386.27" width="3.69" height="3.69" fill="#000"/>
<path d="M294.95 386.19H301.75" stroke="#111" stroke-width="0.8"/>
<path d="M316.30 366.03V371.17M313.90 366.03H318.70M313.90 371.17H318.70" stroke="#111" stroke-width="0.8" fill="none"/>
<path d="M315.24 362.12L317.49 366.22L312.98 366.22Z" fill="#000"/>
<path d="M318.24 363.72L320.50 367.82L315.99 367.82Z" fill="#000"/>
<path d="M312.65 364.68L314.90 368.78L310.39 368.78Z" fill="#000"/>
<path d="M320.07 365.47L322.32 369.57L317.81 369.57Z" fill="#000"/>
<path d="M316.89 366.20L319.14 370.30L314.63 370.30Z" fill="#000"/>
<path d="M315.06 367.03L317.32 371.13L312.81 371.13Z" fill="#000"/>
<path d="M316.28 367.67L318.53 371.77L314.02 371.77Z" fill="#000"/>
<path d="M311.67 368.67L313.92 372.77L309.41 372.77Z" fill="#000"/>
<path d="M318.24 370.31L320.50 374.41L315.99 374.41Z" fill="#000"/>
<path d="M312.90 368.60H319.70" stroke="#111" stroke-width="0.8"/>
<path d="M334.25 366.54V371.69M331.85 366.54H336.65M331.85 371.69H336.65" stroke="#111" stroke-width="0.8" fill="none"/>
<path d="M335.49 367.51L337.75 363.41L333.24 363.41Z" fill="#000"/>
<path d="M331.74 368.71L333.99 364.61L329.48 364.61Z" fill="#000"/>
<path d="M338.84 369.82L341.09 365.72L336.58 365.72Z" fill="#000"/>
<path d="M329.16 370.57L331.41 366.47L326.90 366.47Z" fill="#000"/>
<path d="M333.76 371.60L336.01 367.50L331.50 367.50Z" fill="#000"/>
<path d="M335.84 371.93L338.09 367.83L333.58 367.83Z" fill="#000"/>
<path d="M334.01 372.61L336.27 368.51L331.76 368.51Z" fill="#000"/>
<path d="M339.67 373.92L341.93 369.82L337.42 369.82Z" fill="#000"/>
<path d="M331.94 375.67L334.20 371.57L329.69 371.57Z" fill="#000"/>
<path d="M330.85 369.12H337.65" stroke="#111" stroke-width="0.8"/>
<path d="M352.20 358.09V360.66M349.80 358.09H354.60M349.80 360.66H354.60" stroke="#111" stroke-width="0.8" fill="none"/>
<path d="M351.01 354.78L353.47 357.24L351.01 359.70L348.55 357.24Z" fill="#000"/>
<path d="M355.07 355.63L357.53 358.09L355.07 360.55L352.61 358.09Z" fill="#000"/>
<path d="M352.57 356.05L355.03 358.51L352.57 360.97L350.11 358.51Z" fill="#000"/>
<path d="M351.06 356.46L353.52 358.92L351.06 361.38L348.60 358.92Z" fill="#000"/>
<path d="M352.38 356.84L354.84 359.30L352.38 361.76L349.92 359.30Z" fill="#000"/>
<path d="M347.67 357.31L350.13 359.77L347.67 362.23L345.21 359.77Z" fill="#000"/>
<path d="M356.50 357.72L358.96 360.18L356.50 362.64L354.04 360.18Z" fill="#000"/>
<path d="M350.19 358.07L352.65 360.53L350.19 362.99L347.73 360.53Z" fill="#000"/>
<path d="M353.38 358.82L355.84 361.28L353.38 363.74L350.92 361.28Z" fill="#000"/>
<path d="M348.80 359.38H355.60" stroke="#111" stroke-width="0.8"/>
<path d="M370.15 358.09V363.24M367.75 358.09H372.55M367.75 363.24H372.55" stroke="#111" stroke-width="0.8" fill="none"/>
<circle cx="371.25" cy="356.59" r="1.95" fill="#fff" fill-opacity="0.6" stroke="#8a8a8a" stroke-width="0.9"/>
<circle cx="366.60" cy="358.26" r="1.95" fill="#fff" fill-opacity="0.6" stroke="#8a8a8a" stroke-width="0.9"/>
<circle cx="374.21" cy="358.89" r="1.95" fill="#fff" fill-opacity="0.6" stroke="#8a8a8a" stroke-width="0.9"/>
<circle cx="370.85" cy="359.73" r="1.95" fill="#fff" fill-opacity="0.6" stroke="#8a8a8a" stroke-width="0.9"/>
<circle cx="369.20" cy="360.78" r="1.95" fill="#fff" fill-opacity="0.6" stroke="#8a8a8a" stroke-width="0.9"/>
<circle cx="370.08" cy="361.33" r="1.95" fill="#fff" fill-opacity="0.6" stroke="#8a8a8a" stroke-width="0.9"/>
<circle cx="365.15" cy="362.05" r="1.95" fill="#fff" fill-opacity="0.6" stroke="#8a8a8a" stroke-width="0.9"/>
<circle cx="374.89" cy="363.04" r="1.95" fill="#fff" fill-opacity="0.6" stroke="#8a8a8a" stroke-width="0.9"/>
<circle cx="369.36" cy="365.04" r="1.95" fill="#fff" fill-opacity="0.6" stroke="#8a8a8a" stroke-width="0.9"/>
<path d="M366.75 360.66H373.55" stroke="#111" stroke-width="0.8"/>
<path d="M388.10 344.36V352.08M385.70 344.36H390.50M385.70 352.08H390.50" stroke="#111" stroke-width="0.8" fill="none"/>
<rect x="384.88" y="339.91" width="3.69" height="3.69" fill="#fff" fill-opacity="0.6" stroke="#3c3c3c" stroke-width="0.9"/>
<rect x="386.11" y="342.28" width="3.69" height="3.69" fill="#fff" fill-opacity="0.6" stroke="#3c3c3c" stroke-width="0.9"/>
<rect x="387.40" y="343.72" width="3.69" height="3.69" fill="#fff" fill-opacity="0.6" stroke="#3c3c3c" stroke-width="0.9"/>
<rect x="386.06" y="345.36" width="3.69" height="3.69" fill="#fff" fill-opacity="0.6" stroke="#3c3c3c" stroke-width="0.9"/>
<rect x="390.91" y="346.25" width="3.69" height="3.69" fill="#fff" fill-opacity="0.6" stroke="#3c3c3c" stroke-width="0.9"/>
<rect x="381.30" y="347.72" width="3.69" height="3.69" fill="#fff" fill-opacity="0.6" stroke="#3c3c3c" stroke-width="0.9"/>
<rect x="388.06" y="348.31" width="3.69" height="3.69" fill="#fff" fill-opacity="0.6" stroke="#3c3c3c" stroke-width="0.9"/>
<rect x="383.62" y="349.70" width="3.69" height="3.69" fill="#fff" fill-opacity="0.6" stroke="#3c3c3c" stroke-width="0.9"/>
<rect x="387.92" y="352.20" width="3.69" height="3.69" fill="#fff" fill-opacity="0.6" stroke="#3c3c3c" stroke-width="0.9"/>
<path d="M384.70 348.22H391.50" stroke="#111" stroke-width="0.8"/>
<path d="M406.05 330.03V337.76M403.65 330.03H408.45M403.65 337.76H408.45" stroke="#111" stroke-width="0.8" fill="none"/>
<path d="M404.79 325.72L407.04 329.82L402.53 329.82Z" fill="#fff" fill-opacity="0.6" stroke="#d8d8d8" stroke-width="0.9"/>
<path d="M405.74 328.17L407.99 332.27L403.48 332.27Z" fill="#fff" fill-opacity="0.6" stroke="#d8d8d8" stroke-width="0.9"/>
<path d="M407.08 329.65L409.34 333.75L404.83 333.75Z" fill="#fff" fill-opacity="0.6" stroke="#d8d8d8" stroke-width="0.9"/>
<path d="M405.85 330.37L408.10 334.47L403.59 334.47Z" fill="#fff" fill-opacity="0.6" stroke="#d8d8d8" stroke-width="0.9"/>
<path d="M410.21 331.95L412.47 336.05L407.96 336.05Z" fill="#fff" fill-opacity="0.6" stroke="#d8d8d8" stroke-width="0.9"/>
<path d="M401.89 332.31L404.15 336.41L399.64 336.41Z" fill="#fff" fill-opacity="0.6" stroke="#d8d8d8" stroke-width="0.9"/>
<path d="M407.67 334.30L409.93 338.40L405.42 338.40Z" fill="#fff" fill-opacity="0.6" stroke="#d8d8d8" stroke-width="0.9"/>
<path d="M404.36 335.20L406.61 339.30L402.10 339.30Z" fill="#fff" fill-opacity="0.6" stroke="#d8d8d8" stroke-width="0.9"/>
<path d="M407.47 337.89L409.73 341.99L405.22 341.99Z" fill="#fff" fill-opacity="0.6" stroke="#d8d8d8" stroke-width="0.9"/>
<path d="M402.65 333.89H409.45" stroke="#111" stroke-width="0.8"/>
<text transform="translate(327.20 312.20) scale(0.92 1)" text-anchor="middle" font-family='"Liberation Serif", "Times New Roman", serif' font-weight="bold" font-size="13" fill="#111" stroke="#111" stroke-width="0.45">LDH</text>
<text transform="translate(237.70 353.60) rotate(-90)" text-anchor="middle" font-family='"Liberation Sans", Arial, sans-serif' font-weight="bold" font-size="7.4" fill="#111" stroke="#111" stroke-width="0.45">LDH (U/L)</text></g>
<rect x="24.1" y="437.1" width="94.9" height="72.6" fill="#f66ac0"/>
<rect x="24.1" y="437.1" width="94.9" height="72.6" fill="#f66ac0" filter="url(#tx1)"/>
<path d="M37.6 497.9h0M96.1 456.1h0M71.1 469.8h0M85.6 493.8h0M33.8 440.1h0M102.7 468.7h0M95.9 438.2h0M66.5 489.0h0M46.4 504.8h0M108.8 440.3h0M27.5 476.3h0M112.3 465.0h0M45.2 467.9h0M27.8 453.8h0M65.8 473.1h0M46.8 454.4h0M45.4 470.5h0M52.0 439.6h0M102.9 477.4h0M84.8 451.2h0M117.3 498.8h0M36.3 461.6h0M92.1 488.3h0M112.1 467.9h0M102.2 485.4h0M53.3 479.6h0M107.1 497.8h0M72.0 479.7h0M28.3 455.2h0M99.2 467.4h0M41.2 476.8h0M90.4 485.7h0M59.9 469.1h0M72.3 493.1h0M73.5 465.9h0M70.6 440.2h0M29.1 487.8h0M116.4 480.0h0M61.7 450.1h0M71.8 507.4h0M96.7 476.2h0M105.0 454.5h0M72.8 505.3h0M78.8 470.5h0M50.1 476.8h0M114.0 438.5h0M97.9 496.0h0M107.4 490.4h0M100.3 474.7h0M77.3 468.2h0M30.3 499.5h0M78.1 452.2h0M72.0 472.3h0M58.2 462.5h0M75.1 482.1h0M82.0 470.4h0M27.7 454.3h0M41.6 479.4h0M105.1 494.5h0M99.2 495.7h0M48.8 497.5h0M87.6 444.0h0M26.7 439.1h0M95.3 455.7h0M35.3 482.2h0M57.1 443.0h0M39.9 475.3h0M40.7 457.4h0M91.2 470.2h0M55.0 471.5h0M27.3 465.4h0M64.2 451.4h0M35.2 501.6h0M72.5 452.9h0M81.4 495.8h0M27.0 439.4h0M38.7 488.8h0M40.0 487.8h0M88.1 476.6h0M45.6 507.0h0M99.2 474.6h0M45.8 483.9h0M61.8 478.8h0M54.9 482.6h0M30.6 459.2h0M115.0 499.9h0M53.6 498.7h0M53.9 504.4h0M94.2 467.5h0M48.5 438.7h0M106.7 440.8h0M101.2 506.0h0M78.1 450.2h0M105.7 506.8h0M90.5 474.0h0M60.2 462.6h0M44.2 485.7h0M65.3 451.8h0M34.8 485.1h0M52.6 473.4h0M55.3 499.6h0M108.7 439.4h0M43.8 461.2h0M116.8 493.4h0M56.6 453.1h0M87.8 497.2h0M111.7 462.4h0M107.1 486.6h0M70.1 507.7h0M46.9 489.3h0M33.0 450.1h0M109.7 453.1h0M95.6 480.5h0M103.2 464.1h0M56.7 458.7h0M105.7 480.7h0M113.8 500.7h0M37.7 477.0h0M34.8 440.9h0M31.9 499.3h0M98.3 496.6h0M56.8 481.5h0M97.7 464.8h0M78.1 453.9h0M32.7 456.9h0M107.9 477.9h0M111.0 470.4h0M50.9 493.7h0M102.0 439.0h0M87.4 444.6h0M35.8 500.6h0M28.8 455.0h0M116.9 467.8h0M35.8 449.9h0M47.5 490.6h0M34.7 502.4h0M60.2 506.6h0M109.6 458.9h0M48.6 471.8h0M34.4 484.1h0M28.8 438.8h0M116.4 459.0h0M80.5 469.9h0M54.2 442.5h0M110.0 506.6h0M115.2 446.0h0M45.1 481.7h0M116.1 476.4h0M89.0 484.8h0M49.2 476.3h0M53.7 455.5h0M32.7 457.9h0M116.5 469.7h0M85.7 483.5h0M112.5 465.7h0M53.6 461.2h0M54.5 497.9h0M108.1 459.5h0M56.2 476.5h0M78.9 480.2h0M47.9 439.5h0M47.7 443.2h0M76.3 443.1h0M32.1 483.0h0M52.1 494.0h0M70.9 499.0h0M39.4 473.5h0M99.0 443.5h0M113.3 450.3h0M97.2 507.6h0M101.4 460.7h0M35.0 474.4h0M110.5 458.8h0M108.1 448.1h0M109.7 440.3h0M54.5 501.9h0M99.8 502.1h0M103.2 490.8h0M89.2 450.7h0M65.3 449.2h0M91.5 485.2h0M48.6 442.6h0M114.6 495.2h0M76.1 476.3h0M104.2 470.1h0M61.9 462.0h0M49.1 439.8h0M85.2 467.5h0M78.1 442.5h0M58.1 447.9h0M36.7 456.4h0M102.1 466.2h0M62.4 481.3h0M46.8 438.6h0M74.2 473.5h0M85.4 469.0h0M88.9 489.7h0M47.2 473.1h0M69.6 454.0h0M63.4 477.7h0M109.4 502.9h0M50.7 483.7h0M29.6 443.2h0M72.6 500.0h0M39.9 492.2h0M107.1 460.1h0M89.4 498.0h0M59.6 487.6h0M93.5 480.1h0M104.6 501.4h0M114.3 478.4h0M41.5 455.8h0M45.3 478.3h0M95.5 441.8h0M88.4 488.7h0M57.4 474.5h0M40.4 489.6h0M28.9 507.4h0M100.2 482.5h0M50.0 502.5h0M114.2 447.9h0M97.2 497.5h0M86.4 487.5h0M66.4 503.4h0M115.3 465.1h0M99.7 468.7h0M40.4 461.1h0M36.8 502.3h0M114.2 446.5h0M80.9 466.9h0M36.1 459.0h0M48.2 491.0h0M25.5 451.5h0M65.9 439.6h0M83.4 480.9h0M102.7 452.7h0M51.6 476.4h0M50.5 479.5h0M48.4 486.4h0M98.6 495.2h0M115.5 476.6h0M70.7 498.5h0M96.5 478.4h0M60.7 458.2h0M35.1 495.1h0M36.1 490.9h0M75.8 506.2h0M95.8 506.8h0M37.8 473.4h0M78.3 460.1h0M71.8 463.3h0M74.2 438.2h0M66.2 469.8h0M53.4 466.3h0M97.8 486.3h0M70.8 483.8h0M60.2 452.5h0M25.5 457.7h0M80.7 500.3h0M102.2 474.2h0M116.8 470.7h0M102.6 467.0h0M94.3 507.8h0M53.5 450.1h0M82.7 475.6h0M58.5 438.3h0M61.3 468.2h0M62.7 498.9h0M79.4 489.9h0M108.5 491.0h0M70.9 490.8h0M84.6 483.9h0M83.6 466.8h0M83.6 482.8h0M112.2 493.3h0M103.7 492.3h0M100.8 480.8h0M57.6 456.8h0M90.9 499.8h0M75.7 448.8h0M102.5 472.3h0M68.5 441.3h0M72.5 490.7h0M64.4 463.2h0M86.1 439.5h0M72.2 504.9h0M89.2 466.5h0M89.1 480.8h0M44.5 452.8h0M107.4 457.1h0M32.1 496.7h0M73.7 464.1h0M72.6 490.1h0M40.8 484.2h0M91.4 495.6h0M50.2 481.1h0M46.7 477.7h0M41.1 493.9h0M105.6 461.4h0M45.8 506.1h0M90.8 497.7h0M27.9 501.6h0M82.9 460.4h0M65.2 491.9h0M98.1 451.5h0M83.2 449.8h0M115.5 469.4h0M109.9 489.5h0M81.4 456.6h0M74.0 447.9h0M37.9 488.6h0M58.6 491.1h0M47.4 488.8h0M91.8 459.7h0M35.0 466.1h0M70.8 445.2h0M42.5 442.0h0M80.6 500.9h0M45.2 440.6h0M90.5 495.6h0" stroke="#9a48c0" stroke-width="1.3" stroke-linecap="round" stroke-opacity="0.55" fill="none"/>
<path d="M113.9 505.0h0M30.4 444.1h0M102.7 490.1h0M87.3 459.9h0M81.4 480.9h0M79.1 449.3h0M65.1 465.9h0M92.3 508.3h0M113.3 476.5h0M66.4 457.0h0M28.4 440.0h0M68.3 460.6h0M60.4 501.1h0M73.9 477.7h0M47.0 439.8h0M55.3 447.8h0M72.5 508.6h0M87.8 450.9h0M108.1 494.4h0M93.3 502.1h0M96.0 493.9h0M58.0 507.4h0M114.5 449.5h0M95.1 488.6h0M68.0 475.5h0M70.6 503.4h0M71.6 496.8h0M58.0 500.4h0M108.7 470.6h0M77.8 503.1h0M92.3 472.5h0M45.7 461.0h0M90.1 449.8h0M109.4 457.0h0M109.8 460.0h0M114.0 488.0h0M71.9 474.7h0M85.6 479.6h0M54.1 452.8h0M72.7 504.1h0M83.0 443.4h0M101.3 489.4h0M109.4 451.6h0M94.3 442.2h0M85.8 457.4h0M46.2 499.9h0M35.0 475.0h0M104.4 455.4h0M44.7 500.3h0M64.4 488.7h0M28.1 463.7h0M41.1 485.6h0M32.8 505.5h0M27.5 489.6h0M27.1 456.2h0M100.7 449.2h0M42.2 486.9h0M60.9 441.1h0M117.1 448.8h0M28.5 462.4h0M82.3 490.5h0M35.6 461.9h0M28.0 469.8h0M96.3 490.3h0M108.9 491.4h0M105.2 487.9h0M69.0 454.0h0M86.5 460.4h0M34.6 469.7h0M106.4 447.1h0M79.4 465.8h0M72.9 448.3h0M114.3 456.4h0M81.4 467.7h0M26.8 477.5h0M38.2 442.1h0M28.2 449.5h0M34.0 482.9h0M72.3 507.5h0M111.9 508.3h0M46.7 469.5h0M48.4 479.8h0M83.1 494.6h0M91.0 456.2h0M64.4 475.2h0M25.5 440.6h0M63.1 445.9h0M92.3 455.1h0M34.4 450.9h0M46.6 453.4h0M73.5 470.9h0M53.9 483.4h0M44.8 502.1h0M114.6 489.6h0M65.4 474.2h0M79.1 441.7h0M63.9 475.2h0M41.9 444.7h0M99.7 464.0h0M73.3 503.2h0M81.8 458.5h0M116.5 464.4h0M26.9 486.5h0M34.5 459.7h0M103.2 485.6h0M26.6 470.0h0M63.3 472.4h0M44.4 479.7h0M32.0 458.2h0M59.7 504.1h0M32.2 491.4h0M43.0 478.5h0M61.5 470.8h0M95.1 466.0h0M36.4 446.7h0M32.6 498.1h0M84.6 505.9h0M89.4 439.8h0M86.3 493.0h0M92.3 473.3h0M58.3 470.4h0M99.3 457.1h0M74.0 471.8h0M113.8 494.9h0M111.7 497.1h0M52.7 454.5h0M70.5 456.4h0M64.8 486.0h0M110.4 479.5h0M101.1 444.9h0M58.2 508.5h0M38.7 467.5h0M31.3 444.2h0M108.3 507.9h0M85.3 447.2h0M52.6 454.5h0M87.4 486.2h0M65.9 475.1h0M35.5 476.3h0M113.3 491.5h0M34.0 474.6h0M91.6 456.3h0M108.2 470.6h0M90.4 466.6h0M117.5 493.4h0M78.4 448.3h0M66.1 440.2h0M80.4 500.4h0M41.9 474.1h0M69.9 466.7h0M91.1 504.2h0M90.6 471.5h0M114.5 461.4h0M94.4 484.6h0M95.9 498.3h0M46.0 482.0h0M62.5 485.2h0M115.9 482.9h0M26.2 470.9h0M91.2 500.5h0M85.5 495.7h0M26.7 504.7h0M92.9 480.9h0M109.2 500.6h0M34.4 495.7h0M96.4 452.2h0M94.2 479.5h0M42.9 494.9h0M37.9 481.3h0M65.5 456.0h0M77.7 471.1h0M44.1 506.4h0M31.9 438.3h0M70.2 497.2h0M86.3 491.4h0M70.2 485.7h0M56.2 456.9h0M71.8 440.0h0M32.5 491.3h0M41.2 491.1h0M98.0 466.7h0M87.8 493.7h0M105.4 447.6h0M40.2 465.0h0M68.3 458.9h0M26.1 477.5h0M114.9 464.0h0M75.1 465.1h0M66.2 499.6h0M53.8 483.9h0M70.0 476.1h0M110.1 443.5h0M101.7 459.6h0M85.1 494.3h0M85.8 465.8h0M103.2 444.7h0M83.9 465.7h0M74.4 498.2h0M99.2 482.5h0M53.7 454.5h0M67.6 454.5h0M50.9 505.7h0M35.5 495.9h0M60.3 463.8h0M54.7 443.6h0M67.6 449.9h0M66.2 458.7h0M108.2 503.2h0M66.2 483.3h0M111.5 461.1h0M34.3 454.9h0M42.7 486.0h0M59.8 463.2h0M99.0 454.6h0M100.2 482.8h0M62.3 496.2h0M56.9 500.1h0M111.1 473.6h0M89.2 505.1h0M94.1 491.1h0" stroke="#ffb4dc" stroke-width="1.3" stroke-linecap="round" stroke-opacity="0.55" fill="none"/>
<rect x="124.1" y="437.1" width="95.4" height="71.6" fill="#ee6cbc"/>
<rect x="124.1" y="437.1" width="95.4" height="71.6" fill="#ee6cbc" filter="url(#tx2)"/>
<path d="M147.3 476.0h0M159.7 480.1h0M183.5 442.7h0M126.3 496.4h0M149.3 454.4h0M218.1 470.8h0M203.2 471.3h0M184.8 448.6h0M184.4 498.5h0M174.0 489.7h0M187.8 442.6h0M195.9 479.2h0M153.2 440.3h0M205.9 471.0h0M192.2 499.3h0M191.8 502.2h0M162.0 493.8h0M166.6 503.2h0M207.2 444.9h0M137.8 453.2h0M215.3 468.5h0M183.6 459.1h0M172.5 465.0h0M157.9 478.8h0M179.7 501.0h0M188.8 502.8h0M205.1 507.1h0M187.8 449.5h0M205.5 505.2h0M209.6 477.7h0M191.8 452.8h0M202.8 478.0h0M151.7 442.5h0M204.9 507.0h0M133.4 493.8h0M163.4 448.6h0M152.5 491.6h0M206.6 441.2h0M182.5 441.2h0M192.2 461.1h0M207.4 506.4h0M172.3 507.6h0M154.0 443.5h0M181.1 440.3h0M143.5 466.5h0M182.1 449.0h0M129.1 498.5h0M154.4 504.8h0M208.8 464.4h0M168.1 474.3h0M185.2 479.6h0M177.3 481.3h0M213.0 473.4h0M165.4 488.2h0M147.3 459.1h0M216.4 474.4h0M176.3 438.9h0M163.9 478.5h0M127.0 481.0h0M184.1 442.3h0M183.7 470.6h0M188.5 462.6h0M191.1 489.5h0M127.2 442.3h0M188.2 505.1h0M148.6 469.9h0M180.5 460.4h0M159.1 459.9h0M159.6 479.6h0M153.2 464.4h0M197.2 440.0h0M178.3 489.3h0M154.1 453.6h0M200.2 454.7h0M142.6 468.4h0M190.3 445.2h0M155.2 461.3h0M203.0 468.6h0M205.0 449.9h0M156.5 483.4h0M207.7 469.5h0M146.1 446.5h0M174.6 451.4h0M200.5 496.5h0M142.2 457.5h0M200.5 482.8h0M200.4 462.1h0M137.2 458.4h0M199.2 457.0h0M157.4 467.1h0M164.3 466.6h0M211.1 449.0h0M125.5 503.8h0M207.3 506.8h0M165.7 504.2h0M211.7 453.6h0M194.7 496.3h0M187.0 474.2h0M152.1 461.8h0M146.3 442.8h0M180.1 458.1h0M200.8 441.2h0M209.5 486.4h0M211.4 500.5h0M209.1 478.3h0M126.3 490.0h0M141.1 459.0h0M187.0 474.6h0M163.7 503.5h0M182.3 461.9h0M148.7 498.1h0M169.7 492.5h0M158.0 451.8h0M175.0 495.0h0M141.1 493.2h0M211.2 494.2h0M202.0 438.6h0M183.8 498.1h0M129.8 457.0h0M150.2 474.8h0M164.6 471.0h0M197.6 438.2h0M130.2 446.9h0M136.7 442.9h0M216.1 497.6h0M133.1 473.0h0M154.6 460.0h0M157.9 483.1h0M179.9 463.2h0M142.9 461.0h0M136.7 476.8h0M192.0 464.6h0M132.6 450.5h0M160.0 480.2h0M198.2 464.6h0M199.9 481.5h0M165.4 464.0h0M171.4 487.0h0M164.4 486.4h0M168.1 455.2h0M175.1 486.5h0M131.8 467.7h0M164.9 499.3h0M212.6 464.1h0M209.0 493.1h0M149.6 470.4h0M136.6 494.7h0M187.0 499.9h0M199.1 484.6h0M193.6 477.3h0M134.7 479.0h0M125.6 448.1h0M197.4 441.2h0M133.7 445.0h0M207.3 450.6h0M127.3 496.7h0M136.4 496.8h0M188.0 496.3h0M214.1 478.4h0M199.7 440.6h0M196.8 473.7h0M191.9 445.5h0M195.1 503.1h0M130.8 460.7h0M177.8 495.7h0M147.7 450.6h0M148.4 481.0h0M195.5 465.5h0M159.4 465.7h0M157.8 467.2h0M132.9 472.9h0M216.0 466.8h0M194.9 449.3h0M189.6 490.7h0M188.0 474.1h0M170.3 482.8h0M208.9 448.5h0M134.1 490.2h0M210.7 474.1h0M166.5 488.1h0M142.5 456.7h0M143.7 478.9h0M154.5 454.3h0M189.7 504.5h0M152.7 487.2h0M163.7 497.5h0M179.7 456.7h0M145.4 439.7h0M169.9 464.7h0M141.2 463.2h0M155.2 492.0h0M138.5 507.1h0M169.9 479.8h0M168.8 496.2h0M201.8 476.9h0M170.1 488.3h0M205.1 466.0h0M193.6 504.9h0M168.8 454.1h0M147.0 488.1h0M188.2 504.8h0M204.9 454.9h0M142.8 456.1h0M142.6 487.1h0M205.3 500.7h0M148.9 498.3h0M154.4 467.6h0M193.2 444.1h0M133.8 496.1h0M152.4 462.9h0M179.3 485.1h0M125.7 461.4h0M165.8 471.9h0M144.7 478.8h0M214.3 465.3h0M175.9 446.4h0M150.8 484.4h0M135.6 499.8h0M210.0 444.8h0M213.0 464.1h0M197.2 490.8h0M152.7 485.1h0M186.2 494.2h0M149.9 490.6h0M214.9 484.9h0M175.2 446.0h0M171.2 462.6h0M192.2 485.3h0M178.0 450.8h0M185.4 482.0h0" stroke="#8a3cc0" stroke-width="1.7" stroke-linecap="round" stroke-opacity="0.6" fill="none"/>
<path d="M147.1 445.3h0M162.1 448.9h0M131.3 466.1h0M210.8 493.8h0M196.6 453.5h0M175.2 457.4h0M141.2 445.5h0M145.1 502.7h0M202.5 494.2h0M199.9 451.6h0M154.0 481.7h0M193.5 497.6h0M207.3 444.1h0M181.7 484.9h0M172.4 450.5h0M169.3 444.3h0M212.4 498.3h0M176.2 459.0h0M210.0 477.9h0M207.5 497.1h0M172.6 466.9h0M181.0 468.1h0M140.2 459.3h0M201.0 441.1h0M129.4 481.7h0M151.3 475.3h0M169.1 462.0h0M218.2 451.7h0M163.7 452.2h0M184.2 457.3h0M158.3 490.1h0M155.1 477.0h0M209.6 445.1h0M130.9 454.0h0M196.6 480.9h0M147.3 461.1h0M141.7 470.0h0M129.1 486.6h0M208.8 504.5h0M193.7 504.9h0M126.8 458.2h0M215.3 492.1h0M163.4 503.8h0M183.1 495.0h0M152.5 451.4h0M166.6 447.6h0M160.7 505.0h0M156.0 438.8h0M129.3 449.9h0M198.3 463.3h0M152.2 444.9h0M216.8 467.6h0M144.5 442.2h0M130.3 449.8h0M188.3 448.5h0M128.9 472.3h0M148.4 507.5h0M136.5 474.9h0M197.4 466.6h0M217.3 471.4h0M147.7 466.7h0M128.5 467.4h0M148.3 500.0h0M202.7 472.8h0M128.1 455.8h0M147.7 452.6h0M146.7 498.6h0M138.3 441.7h0M211.8 477.4h0M217.6 466.1h0M209.2 483.6h0M199.0 489.9h0M171.3 444.6h0M144.8 498.9h0M209.1 502.5h0M156.5 483.8h0M199.8 482.8h0M201.2 474.9h0M186.3 485.8h0M150.2 502.3h0M214.4 443.3h0M215.8 505.0h0M187.5 441.2h0M209.1 447.0h0M215.6 484.5h0M130.7 449.7h0M184.4 477.7h0M194.8 502.7h0M145.5 438.3h0M211.2 439.0h0M207.0 446.2h0M200.7 492.6h0M207.1 476.4h0M207.2 452.1h0M187.8 461.1h0M208.4 491.9h0M169.1 474.7h0M127.6 440.5h0M180.6 472.1h0M205.9 480.4h0M138.1 463.3h0M196.8 474.5h0M126.1 496.4h0M202.4 444.0h0M175.9 464.6h0M198.6 459.8h0M146.9 472.0h0M215.4 444.7h0M135.8 481.3h0M207.8 473.8h0M165.6 497.8h0M197.6 442.8h0M207.4 451.7h0M153.3 496.3h0M164.6 493.7h0M140.7 499.0h0M141.6 448.5h0M171.3 461.7h0M175.7 501.0h0M191.5 438.5h0M154.2 476.0h0M170.5 487.9h0M170.3 443.4h0M148.0 497.1h0M158.4 491.5h0M217.2 481.7h0M188.3 480.5h0M154.4 501.6h0M168.7 501.5h0M153.6 498.5h0M198.6 480.8h0M166.4 447.9h0M197.1 463.3h0M186.9 447.4h0M132.8 448.1h0M200.7 450.5h0M209.3 464.0h0M178.9 462.5h0M183.1 444.6h0M162.7 503.3h0M141.9 483.6h0M155.6 459.0h0M127.3 439.5h0M213.8 495.9h0M199.9 494.3h0M214.1 449.1h0M179.7 472.6h0M178.7 503.4h0M196.1 505.5h0M136.0 483.4h0M188.2 490.0h0M182.8 496.0h0M153.4 502.7h0M163.0 479.8h0M208.9 487.1h0M154.0 454.1h0M155.6 481.7h0M218.2 500.7h0M162.5 466.0h0M201.5 457.9h0M163.5 439.0h0M142.3 475.7h0M189.9 480.9h0M159.1 504.3h0M183.3 449.0h0M131.4 505.9h0M217.4 502.1h0M181.5 459.8h0M133.6 456.1h0M145.8 502.7h0M208.5 492.2h0M139.0 454.7h0M153.0 504.1h0M140.4 493.1h0M188.7 476.2h0M214.7 456.4h0M174.1 449.1h0M134.1 440.3h0M154.7 446.6h0M130.8 507.2h0M152.1 500.1h0M190.7 489.0h0M186.3 504.4h0M207.2 488.2h0M177.4 486.4h0M192.7 476.5h0M172.0 448.8h0M204.0 471.8h0M131.4 449.8h0M206.8 455.9h0M161.6 485.6h0M205.6 461.0h0M161.2 467.5h0M127.7 499.1h0M126.9 504.9h0M139.3 449.0h0M204.4 495.4h0M146.8 476.6h0M169.6 488.1h0M142.4 495.6h0M218.2 487.3h0M211.1 503.3h0M160.5 497.1h0M203.0 479.0h0M135.1 481.2h0M210.3 459.3h0M185.5 500.5h0M181.1 440.7h0M184.1 455.9h0M205.2 484.2h0M153.8 500.4h0M183.5 461.7h0M203.0 500.2h0M208.5 499.6h0M186.6 486.7h0M181.6 474.8h0M217.3 462.7h0M132.7 487.8h0M171.6 476.1h0M180.9 455.5h0" stroke="#f8c8e6" stroke-width="1.7" stroke-linecap="round" stroke-opacity="0.65" fill="none"/>
<path d="M135.1 487.0h0M186.0 503.5h0M150.4 455.9h0M193.7 483.9h0M153.4 485.7h0M162.1 492.2h0M136.2 453.6h0M209.3 463.0h0M149.4 494.1h0M184.1 448.5h0M176.6 484.3h0M140.5 483.5h0M136.6 461.6h0M132.9 452.3h0M216.4 466.2h0M217.6 468.6h0M181.8 498.8h0M189.3 445.9h0M180.1 482.2h0M142.0 444.7h0M206.8 473.9h0M143.2 469.6h0M145.5 493.7h0M171.8 445.2h0M201.5 444.3h0M151.3 440.0h0M194.2 446.0h0M174.2 444.6h0M170.0 485.8h0M175.1 469.8h0M170.4 468.5h0M180.7 444.7h0M169.4 454.5h0M205.9 503.5h0M131.3 448.1h0M190.8 477.9h0M126.9 487.2h0M213.3 467.5h0M157.6 477.7h0M212.8 456.4h0M153.3 451.2h0M183.8 470.8h0M149.0 465.1h0M128.3 459.8h0M216.9 478.9h0M151.5 503.3h0M158.6 455.6h0M128.4 448.3h0M143.7 454.1h0M206.6 456.5h0M148.3 480.1h0M210.8 458.4h0M196.2 463.8h0M177.5 479.6h0M213.1 490.8h0M172.6 496.7h0M159.3 464.8h0M214.8 476.1h0M197.3 460.0h0M210.6 480.7h0M148.2 503.1h0M168.9 461.7h0M149.6 445.3h0M143.8 486.3h0M138.2 456.1h0M166.9 476.0h0M160.6 492.7h0M149.1 463.8h0M164.8 447.1h0M145.9 448.3h0M192.9 448.3h0M187.5 453.6h0M185.5 483.8h0M158.1 503.0h0M186.4 476.9h0M129.4 466.4h0M150.0 470.8h0M212.3 498.2h0M130.9 485.4h0M212.4 475.9h0" stroke="#f04fa8" stroke-width="1.5" stroke-linecap="round" stroke-opacity="0.4" fill="none"/>
<rect x="224.1" y="437.1" width="95.3" height="71.6" fill="#ea5cb0"/>
<rect x="224.1" y="437.1" width="95.3" height="71.6" fill="#ea5cb0" filter="url(#tx3)"/>
<path d="M283.2 489.7h0M299.3 503.7h0M294.1 502.3h0M227.8 470.5h0M313.1 483.3h0M309.2 446.0h0M268.9 455.3h0M275.8 478.0h0M226.3 453.2h0M251.2 501.9h0M296.5 449.2h0M299.5 447.8h0M282.7 446.9h0M225.3 498.7h0M244.6 453.1h0M316.8 498.8h0M252.1 505.0h0M275.4 485.3h0M244.2 503.6h0M289.5 505.4h0M308.5 458.9h0M258.8 449.7h0M238.7 442.6h0M253.2 480.1h0M225.4 485.3h0M256.6 459.7h0M301.5 471.6h0M254.6 471.6h0M290.8 442.1h0M316.1 439.7h0M295.1 496.9h0M226.8 492.9h0M259.3 478.4h0M225.9 441.4h0M242.0 504.6h0M243.4 490.7h0M311.8 503.7h0M257.2 462.8h0M274.1 492.1h0M235.2 490.2h0M299.5 497.9h0M228.5 503.9h0M233.6 461.8h0M282.1 502.0h0M256.8 502.4h0M276.0 459.8h0M254.7 450.5h0M232.4 448.5h0M289.4 507.5h0M240.2 441.5h0M317.2 475.2h0M263.0 454.6h0M280.5 495.6h0M267.6 467.5h0M230.3 501.9h0M228.2 472.5h0M303.3 447.2h0M293.4 504.2h0M283.9 492.9h0M235.0 468.3h0M239.0 496.9h0M252.6 469.6h0M318.3 497.4h0M316.2 469.7h0M270.6 488.9h0M269.8 458.4h0M262.8 448.3h0M260.3 506.9h0M314.7 481.7h0M271.7 461.7h0M233.4 457.1h0M298.1 498.5h0M258.8 492.8h0M297.4 486.4h0M287.1 491.0h0M259.0 487.1h0M251.3 471.9h0M296.9 486.2h0M252.5 503.9h0M285.7 478.5h0M226.2 476.2h0M248.5 484.8h0M268.3 494.9h0M285.5 493.6h0M257.6 482.9h0M293.9 495.7h0M257.8 496.8h0M306.3 486.0h0M316.2 504.7h0M273.4 474.9h0M240.6 496.3h0M312.6 471.3h0M289.6 488.2h0M293.2 450.1h0M297.9 478.5h0M287.2 467.4h0M283.3 492.0h0M284.5 488.2h0M227.7 449.2h0M266.3 483.3h0M245.5 485.8h0M284.0 441.0h0M269.1 453.8h0M230.2 447.4h0M254.7 450.7h0M243.1 440.6h0M268.5 464.6h0M282.2 479.2h0M247.3 501.0h0M225.2 466.3h0M251.1 466.6h0M235.8 496.0h0M260.0 440.6h0M282.3 444.7h0M276.0 461.7h0M279.3 504.8h0M301.5 467.3h0M301.0 482.8h0M259.6 448.0h0M280.7 477.3h0M314.4 505.5h0M281.9 462.5h0M308.5 438.2h0M235.2 477.5h0M282.5 447.9h0M283.8 500.1h0M260.2 468.1h0M246.2 458.4h0M315.8 464.5h0M314.8 501.7h0M280.7 456.2h0M316.6 472.6h0M263.9 460.3h0M316.9 472.3h0M251.8 471.3h0M236.5 481.4h0M266.5 458.5h0M298.0 495.6h0M226.3 475.2h0M250.6 503.2h0M298.1 455.2h0M250.1 448.9h0M317.4 458.5h0M281.8 471.1h0M285.3 480.1h0M294.5 446.3h0M296.0 459.0h0M274.9 461.5h0M252.8 475.0h0M268.4 463.2h0M294.6 479.2h0M228.5 455.7h0M267.6 501.9h0M307.9 476.1h0M226.5 492.3h0M265.0 478.2h0M291.2 482.1h0M270.1 501.6h0M261.1 465.4h0M304.6 451.8h0M252.8 495.9h0M231.3 496.3h0M289.9 468.2h0M251.8 492.4h0M310.1 448.0h0M269.7 476.3h0M271.5 461.1h0M239.4 478.9h0M300.8 442.9h0M246.6 495.1h0M299.0 484.3h0M227.5 488.4h0M316.4 507.6h0M290.5 441.5h0M303.7 453.4h0M285.3 504.4h0M291.6 447.5h0M252.4 502.0h0M239.1 480.6h0M263.7 449.3h0M283.2 441.1h0M235.2 464.5h0M231.8 442.1h0M278.8 489.8h0M307.1 447.4h0M265.4 460.0h0M281.1 472.2h0M312.7 464.1h0M230.3 486.6h0M239.2 482.0h0M272.3 501.5h0M276.9 481.3h0M249.7 476.5h0M248.8 490.3h0M273.3 447.4h0M247.0 463.9h0M293.8 450.6h0M291.7 483.7h0M233.1 484.6h0M233.6 446.8h0M280.5 454.7h0M306.9 471.5h0M255.3 493.5h0M227.8 488.6h0M230.1 448.6h0M313.9 485.5h0M245.9 446.2h0M315.9 484.4h0M301.7 447.8h0M283.4 462.8h0M247.0 461.3h0M282.4 462.4h0M261.1 447.6h0M302.6 483.2h0M300.2 468.3h0M304.6 474.1h0M280.4 478.0h0M294.2 465.6h0M234.1 440.4h0M244.0 440.8h0M308.1 471.6h0M296.0 438.1h0M269.0 500.0h0M282.9 467.9h0M268.5 445.0h0M239.5 449.2h0M260.1 464.9h0M307.2 448.7h0M248.8 457.4h0M240.2 458.1h0M247.0 471.6h0M228.1 502.4h0M259.5 503.4h0M289.3 485.0h0M269.1 503.9h0M236.1 484.6h0M252.3 485.0h0M293.1 449.5h0M243.9 439.8h0M246.6 443.5h0M262.5 505.9h0M259.1 459.8h0M268.8 457.8h0M293.4 488.1h0M240.3 454.8h0M287.8 503.6h0M285.4 468.1h0M316.1 438.5h0M230.8 492.3h0M263.4 441.2h0M276.3 507.0h0M273.5 462.5h0M233.9 443.1h0M309.0 472.3h0M312.4 441.8h0M247.8 441.6h0M262.2 442.3h0M248.9 466.5h0M253.6 441.7h0M228.6 505.7h0M241.8 473.5h0M262.6 475.1h0M233.0 459.9h0M235.2 475.8h0M311.1 479.7h0M305.0 453.0h0M226.7 475.7h0M270.5 477.9h0M260.2 481.6h0M292.8 501.6h0M253.8 469.4h0M302.2 453.7h0M235.9 459.8h0M233.3 491.9h0M301.6 459.9h0M237.2 443.8h0M247.9 444.0h0M265.1 478.3h0M248.0 442.4h0M290.5 441.4h0M243.7 458.0h0M260.0 445.0h0M264.3 459.9h0M295.3 476.8h0M308.7 483.6h0M296.0 478.1h0M266.4 494.9h0M286.3 504.6h0M293.0 486.9h0M250.1 494.6h0M260.8 447.2h0M231.3 449.9h0M249.6 485.1h0M251.7 442.5h0M296.4 476.9h0M227.7 441.6h0M237.2 463.0h0M305.3 504.2h0M282.2 454.2h0M265.1 463.3h0M255.9 439.0h0M279.6 495.7h0M292.9 444.7h0M274.6 450.0h0M291.3 469.2h0M312.7 493.4h0M236.1 460.2h0M310.5 470.2h0M265.6 468.8h0M296.7 503.3h0M274.8 505.6h0M280.7 445.3h0M301.1 467.3h0M230.0 506.2h0M228.2 478.3h0M270.1 499.5h0M261.7 453.1h0M250.9 452.1h0M277.6 462.9h0M295.2 454.9h0M257.9 455.4h0M316.8 496.6h0M304.4 481.1h0M262.5 448.1h0M302.7 472.2h0M228.6 449.9h0M234.3 488.1h0M309.1 452.0h0M299.5 460.7h0M288.8 498.2h0M283.2 493.8h0M260.2 438.8h0M272.8 478.9h0M242.3 465.2h0M254.7 440.0h0M254.2 464.7h0M269.5 487.1h0M262.3 506.5h0M301.2 502.4h0M289.7 484.7h0M275.2 493.7h0M258.9 479.4h0M288.5 474.4h0M251.6 443.5h0M233.2 462.9h0M279.3 491.0h0M291.8 459.5h0M311.8 457.2h0M291.9 443.1h0M295.4 484.7h0M314.4 500.5h0M289.3 496.4h0M294.0 480.6h0M244.6 474.1h0M308.7 454.7h0M316.0 476.0h0M261.8 438.3h0M261.5 450.5h0M286.0 500.7h0M310.0 480.8h0M261.2 445.7h0M289.4 476.6h0M291.8 464.1h0M307.8 452.9h0M253.6 456.7h0M283.1 500.5h0M240.7 482.1h0M296.6 453.7h0M230.9 477.5h0M302.6 499.2h0M293.0 467.1h0M264.8 474.9h0M309.5 459.1h0M251.3 480.2h0M315.3 451.1h0M227.9 446.1h0M277.6 480.1h0M242.3 451.3h0M280.6 483.1h0M289.5 488.8h0M230.8 471.8h0M303.0 504.7h0M254.8 497.3h0M285.3 502.6h0M246.5 486.6h0M303.5 471.3h0M234.5 451.6h0M239.7 444.6h0M239.3 481.0h0M234.9 490.9h0M293.8 494.9h0M300.1 487.7h0M311.3 504.7h0M283.4 505.3h0M234.7 445.3h0M231.1 452.5h0M260.0 470.0h0M288.6 489.8h0M232.9 466.2h0M275.8 464.2h0M236.1 479.7h0M260.0 485.7h0M271.3 505.1h0M313.3 443.1h0M296.0 488.3h0M252.7 446.2h0M269.8 462.7h0M293.9 502.0h0M260.7 458.3h0M271.6 486.6h0M298.7 478.2h0M252.7 461.6h0M304.2 474.2h0M229.8 467.4h0M247.3 484.5h0M231.9 457.0h0M234.1 471.3h0M317.0 475.8h0M261.1 503.1h0M233.7 462.9h0" stroke="#8e3ab0" stroke-width="1.5" stroke-linecap="round" stroke-opacity="0.55" fill="none"/>
<path d="M299.1 495.3h0M270.4 456.3h0M225.1 484.2h0M269.0 491.0h0M259.9 491.7h0M250.5 493.9h0M293.2 466.9h0M275.3 485.6h0M243.1 476.6h0M300.2 456.6h0M300.1 485.8h0M303.9 461.5h0M233.8 493.8h0M300.2 469.1h0M233.8 451.8h0M284.3 458.4h0M313.9 479.1h0M243.8 483.7h0M258.7 503.0h0M310.0 473.9h0M285.2 486.7h0M300.3 506.1h0M227.8 463.3h0M281.2 459.3h0M280.1 444.3h0M307.2 474.7h0M236.0 484.2h0M254.2 451.8h0M270.2 447.7h0M244.7 498.3h0M290.2 439.0h0M297.7 439.3h0M256.2 501.0h0M283.0 459.4h0M260.3 465.2h0M236.9 507.7h0M230.1 467.5h0M294.7 465.8h0M316.6 455.2h0M316.5 500.2h0M287.6 500.0h0M266.8 496.0h0M299.4 474.1h0M269.0 487.2h0M263.3 444.1h0M294.7 456.6h0M270.6 492.7h0M241.2 439.6h0M236.6 479.1h0M258.8 455.9h0M267.2 502.7h0M248.9 466.7h0M307.1 480.7h0M250.1 471.1h0M269.7 448.0h0M260.3 459.4h0M300.2 460.6h0M286.6 505.7h0M311.2 464.3h0M281.4 460.4h0M262.3 472.1h0M299.1 503.3h0M252.2 438.5h0M267.0 442.1h0M227.9 491.9h0M235.6 488.1h0M258.9 503.4h0M304.7 442.4h0M243.1 504.0h0M282.3 467.5h0M298.1 494.7h0M271.0 470.7h0M234.4 463.3h0M238.6 481.6h0M281.7 448.1h0M283.7 444.9h0M234.9 483.0h0M268.3 500.7h0M283.8 486.9h0M236.9 496.1h0M232.9 481.1h0M310.1 501.3h0M308.4 469.6h0M289.8 493.2h0M237.9 503.8h0M309.9 468.8h0M297.7 469.2h0M250.9 487.7h0M231.0 493.8h0M316.4 458.0h0M312.8 443.9h0M305.2 457.6h0M315.2 468.1h0M311.1 440.3h0M233.1 494.9h0M284.7 475.4h0M228.2 450.2h0M259.7 441.7h0M317.8 491.4h0M313.7 486.9h0M257.1 443.5h0M293.4 446.0h0M276.1 470.4h0M271.2 443.3h0M232.0 474.3h0M227.9 474.7h0M239.1 457.7h0M239.2 477.7h0M261.3 453.6h0M245.8 477.4h0M310.1 467.3h0M240.3 460.1h0M247.5 477.9h0M298.5 477.7h0M242.7 460.7h0M260.7 468.8h0M262.2 507.5h0M276.5 484.2h0M291.9 483.0h0M300.2 464.0h0M287.3 505.8h0M240.4 481.6h0M261.0 442.4h0M228.8 490.9h0M235.8 487.6h0M234.4 463.7h0M228.1 475.9h0M298.5 453.8h0M277.8 502.3h0M252.5 470.9h0M292.7 498.2h0M240.8 484.1h0M236.3 445.9h0M316.8 441.6h0M310.9 490.3h0M288.2 488.9h0M285.8 458.1h0M266.5 452.2h0M305.3 492.3h0M298.6 453.0h0M280.4 455.8h0M298.9 489.9h0M317.9 487.4h0M288.9 492.2h0M233.8 479.5h0M228.2 463.7h0M236.0 504.1h0M227.7 502.2h0M313.5 468.4h0M302.8 441.7h0" stroke="#f4a0d0" stroke-width="1.2" stroke-linecap="round" stroke-opacity="0.5" fill="none"/>
<path d="M315.2 438.9h0M293.8 449.1h0M317.1 439.3h0M307.2 485.5h0M305.1 507.7h0M247.5 461.6h0M291.2 457.6h0M249.7 454.0h0M305.1 499.0h0M299.5 453.6h0M311.4 473.7h0M246.7 469.8h0M264.3 443.6h0M277.8 463.2h0M278.2 502.8h0M285.3 466.3h0M305.7 507.4h0M270.8 503.9h0M226.8 447.9h0M241.2 503.4h0M289.5 488.1h0M251.8 472.6h0M307.9 445.1h0M235.9 441.4h0M268.8 496.6h0M276.9 466.0h0M271.9 450.6h0M313.6 462.7h0M247.0 459.8h0M302.1 460.3h0M309.5 461.5h0M266.3 443.3h0M309.8 493.5h0M269.4 446.1h0M271.0 464.3h0M303.5 502.7h0M294.2 458.1h0M229.0 500.3h0M313.2 449.1h0M271.7 471.6h0M316.2 441.1h0M230.9 496.8h0M278.2 470.3h0M297.7 479.4h0M289.7 455.9h0M233.0 438.7h0M256.2 483.2h0M260.5 462.3h0M282.8 487.2h0M280.7 459.8h0M301.8 493.8h0M308.5 500.2h0M226.5 484.7h0M257.6 465.1h0M273.4 448.1h0M248.4 506.7h0M256.0 501.6h0M289.0 460.0h0M254.8 480.2h0M290.6 461.8h0M230.6 450.1h0M305.4 488.8h0M235.2 496.2h0M278.8 461.4h0M308.5 447.1h0M234.3 462.0h0M293.9 476.2h0M270.3 501.2h0M261.9 493.0h0M225.5 492.6h0M239.6 483.7h0M303.3 483.7h0M279.1 476.4h0M295.2 463.8h0M246.9 476.9h0M273.6 446.2h0M274.6 470.6h0M239.7 487.3h0M297.7 461.7h0M305.8 506.8h0" stroke="#d83a8c" stroke-width="1.4" stroke-linecap="round" stroke-opacity="0.4" fill="none"/>
<rect x="323.3" y="437.2" width="95.3" height="71.6" fill="#ec66b6"/>
<rect x="323.3" y="437.2" width="95.3" height="71.6" fill="#ec66b6" filter="url(#tx4)"/>
<path d="M354.5 448.7h0M385.0 443.2h0M374.3 463.7h0M329.7 473.5h0M327.8 468.4h0M330.8 444.5h0M363.9 495.7h0M335.9 453.7h0M382.8 504.2h0M378.1 465.8h0M415.4 441.4h0M404.4 458.4h0M337.8 446.4h0M353.1 495.0h0M341.2 478.7h0M383.9 464.1h0M375.4 442.6h0M329.9 452.5h0M387.8 468.0h0M353.6 479.0h0M366.6 459.1h0M398.4 486.9h0M347.1 478.2h0M373.3 499.1h0M392.4 458.2h0M415.8 446.4h0M363.3 490.9h0M338.5 472.2h0M328.0 484.7h0M395.6 478.1h0M406.0 460.0h0M389.2 479.6h0M378.4 470.0h0M402.7 503.9h0M368.5 484.4h0M330.0 487.0h0M384.7 507.3h0M401.0 458.0h0M360.3 484.7h0M326.4 470.3h0M340.0 446.3h0M329.8 491.7h0M336.4 455.4h0M360.8 498.9h0M331.8 469.5h0M375.6 499.7h0M400.7 498.3h0M350.3 467.1h0M357.8 499.7h0M413.7 448.7h0M340.7 454.3h0M346.1 472.0h0M379.3 456.5h0M324.7 467.4h0M358.8 477.6h0M413.2 486.3h0M372.4 481.2h0M387.4 442.0h0M408.2 492.5h0M405.9 493.7h0M360.9 466.0h0M334.0 482.3h0M330.1 442.9h0M343.8 449.5h0M356.0 441.9h0M324.3 448.7h0M333.8 463.5h0M326.7 499.1h0M381.6 448.5h0M347.8 462.4h0M358.3 446.7h0M403.5 507.3h0M367.8 471.9h0M332.3 445.3h0M356.3 456.6h0M401.6 449.4h0M326.5 504.4h0M373.6 448.4h0M375.0 440.1h0M373.6 506.3h0M404.8 486.7h0M348.7 463.7h0M339.9 491.9h0M374.0 492.4h0M355.1 453.7h0M400.0 506.8h0M403.9 494.3h0M400.7 489.7h0M345.5 474.2h0M357.5 440.2h0M326.9 457.6h0M348.5 486.4h0M413.5 469.3h0M411.7 507.0h0M413.4 463.6h0M344.9 454.0h0M342.7 452.4h0M382.5 500.9h0M402.7 471.6h0M385.2 493.9h0M332.2 484.2h0M409.2 492.6h0M394.3 471.5h0M341.0 493.1h0M355.3 493.9h0M415.0 465.8h0M361.7 504.1h0M391.9 450.0h0M336.2 448.7h0M408.7 494.3h0M337.9 495.7h0M415.8 483.9h0M357.0 476.4h0M336.5 439.2h0M414.9 483.4h0M373.4 503.2h0M364.8 498.9h0M401.4 452.9h0M347.8 458.6h0M346.7 479.0h0" stroke="#b45cc8" stroke-width="1.1" stroke-linecap="round" stroke-opacity="0.4" fill="none"/>
<path d="M345.5 505.2h0M336.1 487.3h0M332.2 455.4h0M417.5 452.8h0M384.2 470.2h0M366.6 472.7h0M342.2 496.0h0M332.7 454.5h0M326.2 456.8h0M362.3 501.0h0M359.7 446.1h0M348.4 507.2h0M330.2 481.4h0M359.5 484.2h0M355.9 486.3h0M370.7 483.4h0M408.4 478.7h0M337.6 442.7h0M412.6 472.2h0M342.4 504.0h0M378.3 488.9h0M406.5 458.1h0M357.6 499.3h0M336.9 491.4h0M333.4 486.2h0M389.8 504.3h0M403.0 473.3h0M342.7 448.7h0M373.6 473.7h0M331.0 501.1h0M371.6 487.0h0M344.8 455.2h0M325.4 462.1h0M349.2 467.7h0M359.5 496.3h0M407.5 450.4h0M361.3 449.8h0M386.2 506.0h0M343.1 491.5h0M352.3 439.1h0M395.6 462.0h0M340.2 468.5h0M345.9 466.7h0M365.9 467.3h0M379.2 458.3h0M333.2 444.1h0M334.2 474.5h0M357.9 494.4h0M371.4 487.5h0M415.7 442.6h0M325.9 448.0h0M360.3 478.1h0M393.7 462.7h0M414.3 438.4h0M402.3 452.8h0M406.0 440.5h0M414.3 491.1h0M416.7 478.6h0M340.9 505.7h0M365.5 444.0h0M380.8 472.8h0M368.4 449.0h0M335.7 478.6h0M366.5 447.0h0M365.3 488.7h0M391.1 471.0h0M361.0 463.3h0M345.3 451.9h0M365.9 445.7h0M392.0 487.5h0M381.4 439.8h0M358.3 468.3h0M333.0 505.6h0M394.8 473.2h0M390.1 452.2h0M345.7 474.8h0M393.7 483.3h0M324.9 480.9h0M409.1 489.9h0M410.8 506.5h0M345.2 458.8h0M375.4 506.2h0M358.8 503.7h0M403.7 474.1h0M382.6 504.8h0M397.4 458.8h0M403.2 451.8h0M358.8 504.9h0M403.3 459.9h0M351.4 480.9h0M402.9 485.8h0M411.6 488.9h0M400.9 480.3h0M358.1 468.0h0M370.0 475.0h0M402.5 456.9h0M330.7 489.2h0M349.6 467.4h0M335.2 495.9h0M349.9 458.5h0M399.3 473.3h0M350.2 500.0h0M362.7 463.4h0M414.4 493.2h0M394.0 455.6h0M400.2 479.7h0M401.7 463.8h0M397.1 493.4h0M360.5 483.8h0M397.1 507.3h0M410.2 492.9h0M337.1 480.7h0M388.2 444.3h0M367.5 498.7h0M408.8 502.6h0M332.9 480.5h0M405.0 483.6h0M354.1 440.9h0M410.1 498.0h0M385.3 463.7h0M401.6 494.9h0M391.9 479.9h0M354.1 458.8h0M357.7 460.9h0M372.8 446.1h0M391.6 462.4h0M339.2 455.9h0M360.6 468.2h0M397.3 445.1h0M345.1 458.6h0M340.8 490.4h0M334.5 441.7h0M376.2 489.4h0M401.3 477.1h0M354.8 499.6h0M393.0 471.5h0M376.8 503.3h0M417.4 503.0h0M336.7 460.9h0M362.3 450.0h0M395.4 442.4h0M407.1 479.0h0M381.6 467.1h0M411.7 478.5h0M407.9 502.4h0M388.9 506.6h0M370.0 463.7h0M403.0 474.9h0M353.1 485.5h0M368.7 447.1h0M402.5 473.0h0M414.9 475.3h0M411.7 458.3h0M344.6 474.8h0M395.8 495.6h0M384.7 446.8h0M361.1 440.6h0M359.0 504.0h0M356.7 486.8h0M382.3 448.2h0M388.5 443.7h0M341.5 478.6h0M336.2 505.3h0M364.0 482.1h0M414.3 445.7h0M417.5 441.0h0M380.4 483.9h0M416.3 463.1h0M412.6 483.5h0M368.8 450.0h0M346.3 463.6h0M356.6 464.1h0M399.7 464.3h0M383.0 440.9h0M337.4 487.6h0M407.4 460.0h0M327.3 454.4h0M357.9 463.7h0M376.7 459.2h0M384.7 492.9h0M397.4 489.8h0M378.8 456.4h0M402.8 458.4h0M404.5 469.3h0M383.0 472.9h0M385.3 461.9h0M378.3 489.5h0M358.0 480.0h0M366.9 470.9h0M360.1 476.2h0M390.5 450.3h0M337.9 495.5h0M332.6 493.4h0M395.1 453.3h0M383.6 455.8h0M406.6 451.9h0M335.1 440.7h0M391.3 452.9h0M353.6 506.2h0M393.0 489.5h0" stroke="#f8c0e0" stroke-width="1.2" stroke-linecap="round" stroke-opacity="0.5" fill="none"/>
<g filter="url(#bl)" fill="#d81f70" opacity="0.6"><ellipse cx="355.3" cy="449.6" rx="1.0" ry="4.8" transform="rotate(25 355.3 449.6)"/><ellipse cx="341" cy="466" rx="1.0" ry="5" transform="rotate(30 341 466)"/><ellipse cx="343" cy="471" rx="1.3" ry="3.5" transform="rotate(40 343 471)"/><ellipse cx="330" cy="477" rx="1.2" ry="3" transform="rotate(20 330 477)"/><ellipse cx="360" cy="503" rx="3" ry="1.5"/></g>
<g filter="url(#bl2)" fill="#f6a0d4" opacity="0.35"><ellipse cx="385" cy="472" rx="18" ry="14"/></g>
<path d="M150.64 450.37L164.92 452.95L164.60 454.72L169.80 451.80L165.95 447.24L165.63 449.01L151.36 446.43Z" fill="#1cb257"/>
<path d="M138.70 497.80L152.50 497.80L152.50 499.60L157.10 495.80L152.50 492.00L152.50 493.80L138.70 493.80Z" fill="#1cb257"/>
<path d="M252.41 441.99L264.89 448.16L264.09 449.77L269.90 448.40L267.46 442.96L266.66 444.57L254.19 438.41Z" fill="#1cb257"/>
<path d="M277.98 490.14L292.21 486.64L292.64 488.39L296.20 483.60L290.83 481.01L291.26 482.76L277.02 486.26Z" fill="#1cb257"/>
<path d="M333.20 453.60L347.00 453.60L347.00 455.40L351.60 451.60L347.00 447.80L347.00 449.60L333.20 449.60Z" fill="#1cb257"/>
<path d="M389.55 458.32L403.93 454.19L404.43 455.92L407.80 451.00L402.33 448.62L402.83 450.35L388.45 454.48Z" fill="#1cb257"/>
<path d="M357.15 480.60L357.15 495.60L355.60 495.60L358.90 500.00L362.20 495.60L360.65 495.60L360.65 480.60Z" fill="#1cb257"/>
<text x="68.6" y="520.3" text-anchor="middle" font-family='"Liberation Serif", "Times New Roman", serif' font-weight="bold" font-size="10.2" fill="#111">Control</text>
<text x="172.8" y="520.4" text-anchor="middle" font-family='"Liberation Serif", "Times New Roman", serif' font-weight="bold" font-size="10" fill="#111">0.1</text>
<text x="272.4" y="520.4" text-anchor="middle" font-family='"Liberation Serif", "Times New Roman", serif' font-weight="bold" font-size="10" fill="#111">0.25</text>
<text x="367.3" y="520.4" text-anchor="middle" font-family='"Liberation Serif", "Times New Roman", serif' font-weight="bold" font-size="10" fill="#111">0.5</text>
<path d="M152 524.5H392.5" stroke="#111" stroke-width="1"/>
<text transform="translate(277.2 539.3) scale(0.86 1)" text-anchor="middle" font-family='"Liberation Serif", "Times New Roman", serif' font-weight="bold" font-size="12.4" fill="#111" stroke="#111" stroke-width="0.25">Furosine (g/Kg)</text>
</svg>
</body></html>
